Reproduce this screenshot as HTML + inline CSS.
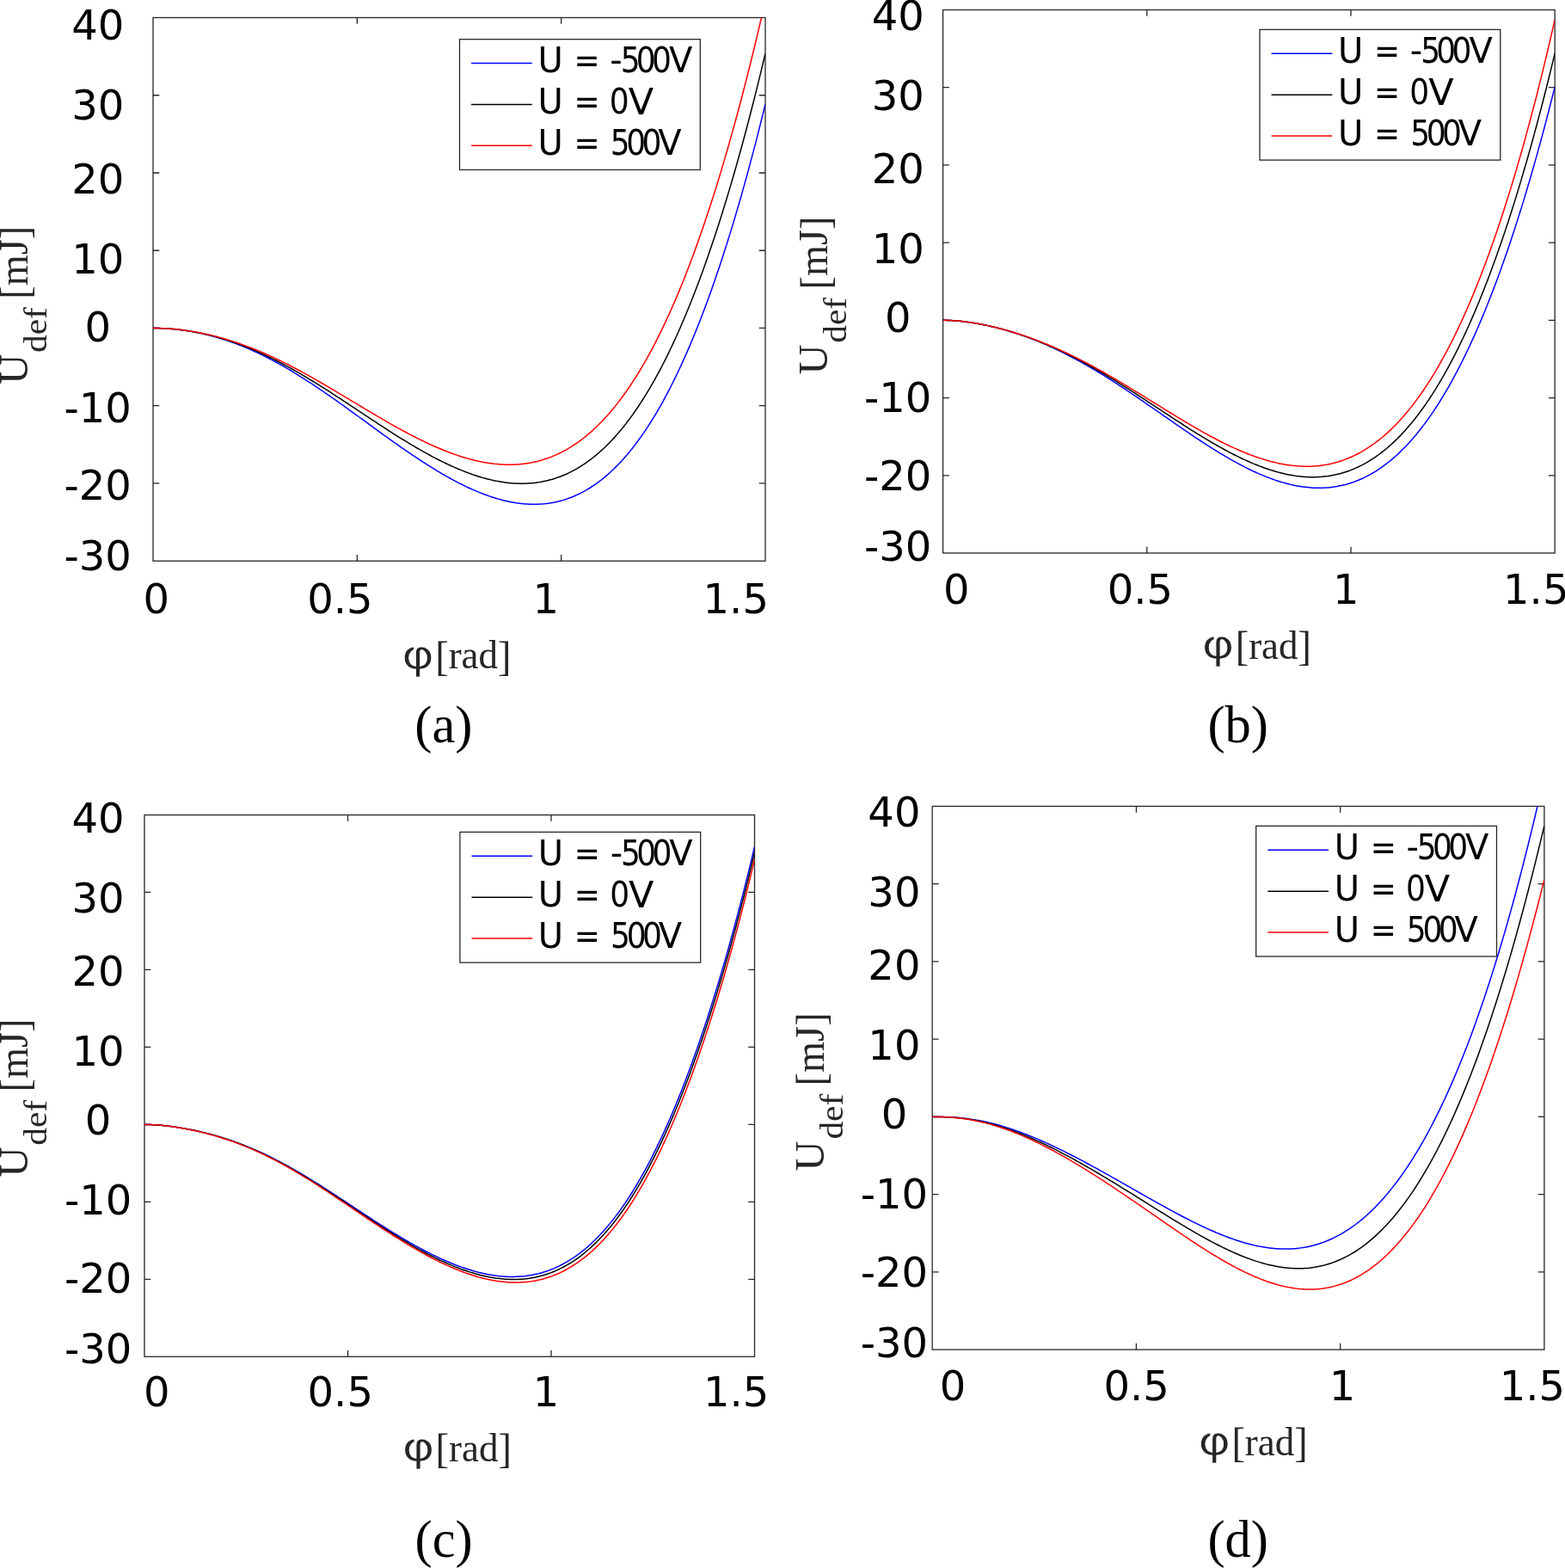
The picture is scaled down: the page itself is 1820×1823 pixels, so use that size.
<!DOCTYPE html><html><head><meta charset="utf-8"><title>U_def vs phi</title>
<style>html,body{margin:0;padding:0;background:#fff;overflow:hidden}svg{display:block}.tk{font-family:"DejaVu Sans",sans-serif;font-size:48px;fill:#000}.lg{font-family:"DejaVu Sans",sans-serif;font-size:40px;fill:#000}.sf{font-family:"Liberation Serif",serif;fill:#262626}.cap{font-family:"Liberation Serif",serif;font-size:60.5px;fill:#000}</style></head><body>
<svg width="1820" height="1823" viewBox="0 0 1820 1823">
<rect x="0" y="0" width="1820" height="1823" fill="#fff"/>
<g id="panel-a">
<clipPath id="clip-a"><rect x="178" y="20.5" width="712" height="631.7"/></clipPath>
<path d="M415.33,652.2V644.9M415.33,20.5V27.8M652.67,652.2V644.9M652.67,20.5V27.8M178,561.96H185.3M890,561.96H882.7M178,471.71H185.3M890,471.71H882.7M178,381.47H185.3M890,381.47H882.7M178,291.23H185.3M890,291.23H882.7M178,200.99H185.3M890,200.99H882.7M178,110.74H185.3M890,110.74H882.7" stroke="#262626" stroke-width="1.3" fill="none"/>
<rect x="178" y="20.5" width="712" height="631.7" fill="none" stroke="#262626" stroke-width="1.3"/>
<path d="M178,381.47 L180.38,381.48 L182.76,381.52 L185.14,381.58 L187.53,381.66 L189.91,381.76 L192.29,381.89 L194.67,382.04 L197.05,382.21 L199.43,382.4 L201.81,382.61 L204.19,382.85 L206.58,383.11 L208.96,383.39 L211.34,383.69 L213.72,384.01 L216.1,384.35 L218.48,384.72 L220.86,385.11 L223.24,385.51 L225.63,385.94 L228.01,386.4 L230.39,386.87 L232.77,387.37 L235.15,387.88 L237.53,388.42 L239.91,388.98 L242.29,389.57 L244.68,390.17 L247.06,390.8 L249.44,391.45 L251.82,392.12 L254.2,392.81 L256.58,393.53 L258.96,394.26 L261.34,395.02 L263.73,395.81 L266.11,396.61 L268.49,397.44 L270.87,398.28 L273.25,399.15 L275.63,400.05 L278.01,400.96 L280.39,401.89 L282.78,402.85 L285.16,403.83 L287.54,404.83 L289.92,405.85 L292.3,406.9 L294.68,407.96 L297.06,409.05 L299.44,410.15 L301.83,411.28 L304.21,412.43 L306.59,413.59 L308.97,414.78 L311.35,415.99 L313.73,417.21 L316.11,418.46 L318.49,419.73 L320.88,421.01 L323.26,422.31 L325.64,423.63 L328.02,424.97 L330.4,426.33 L332.78,427.7 L335.16,429.09 L337.55,430.5 L339.93,431.93 L342.31,433.37 L344.69,434.82 L347.07,436.29 L349.45,437.78 L351.83,439.28 L354.21,440.79 L356.6,442.32 L358.98,443.87 L361.36,445.42 L363.74,446.99 L366.12,448.57 L368.5,450.16 L370.88,451.76 L373.26,453.38 L375.65,455 L378.03,456.63 L380.41,458.28 L382.79,459.93 L385.17,461.59 L387.55,463.26 L389.93,464.94 L392.31,466.62 L394.7,468.31 L397.08,470.01 L399.46,471.71 L401.84,473.42 L404.22,475.13 L406.6,476.85 L408.98,478.57 L411.36,480.3 L413.75,482.03 L416.13,483.76 L418.51,485.49 L420.89,487.22 L423.27,488.96 L425.65,490.69 L428.03,492.42 L430.41,494.16 L432.8,495.89 L435.18,497.62 L437.56,499.35 L439.94,501.08 L442.32,502.8 L444.7,504.52 L447.08,506.24 L449.46,507.95 L451.85,509.66 L454.23,511.36 L456.61,513.05 L458.99,514.74 L461.37,516.42 L463.75,518.1 L466.13,519.76 L468.52,521.42 L470.9,523.07 L473.28,524.71 L475.66,526.34 L478.04,527.95 L480.42,529.56 L482.8,531.16 L485.18,532.74 L487.57,534.31 L489.95,535.87 L492.33,537.41 L494.71,538.94 L497.09,540.46 L499.47,541.96 L501.85,543.45 L504.23,544.91 L506.62,546.37 L509,547.8 L511.38,549.22 L513.76,550.62 L516.14,552 L518.52,553.37 L520.9,554.71 L523.28,556.03 L525.67,557.34 L528.05,558.62 L530.43,559.88 L532.81,561.11 L535.19,562.33 L537.57,563.52 L539.95,564.69 L542.33,565.83 L544.72,566.95 L547.1,568.05 L549.48,569.11 L551.86,570.16 L554.24,571.17 L556.62,572.16 L559,573.12 L561.38,574.05 L563.77,574.95 L566.15,575.82 L568.53,576.66 L570.91,577.47 L573.29,578.25 L575.67,579 L578.05,579.72 L580.43,580.4 L582.82,581.05 L585.2,581.66 L587.58,582.24 L589.96,582.78 L592.34,583.29 L594.72,583.76 L597.1,584.19 L599.48,584.59 L601.87,584.94 L604.25,585.26 L606.63,585.54 L609.01,585.77 L611.39,585.97 L613.77,586.12 L616.15,586.23 L618.54,586.3 L620.92,586.32 L623.3,586.3 L625.68,586.23 L628.06,586.12 L630.44,585.96 L632.82,585.76 L635.2,585.5 L637.59,585.2 L639.97,584.84 L642.35,584.44 L644.73,583.99 L647.11,583.48 L649.49,582.92 L651.87,582.31 L654.25,581.65 L656.64,580.93 L659.02,580.15 L661.4,579.32 L663.78,578.43 L666.16,577.49 L668.54,576.48 L670.92,575.42 L673.3,574.29 L675.69,573.11 L678.07,571.86 L680.45,570.56 L682.83,569.18 L685.21,567.75 L687.59,566.25 L689.97,564.68 L692.35,563.05 L694.74,561.35 L697.12,559.58 L699.5,557.75 L701.88,555.84 L704.26,553.87 L706.64,551.82 L709.02,549.7 L711.4,547.51 L713.79,545.24 L716.17,542.9 L718.55,540.49 L720.93,538 L723.31,535.43 L725.69,532.79 L728.07,530.06 L730.45,527.26 L732.84,524.38 L735.22,521.42 L737.6,518.37 L739.98,515.25 L742.36,512.04 L744.74,508.74 L747.12,505.36 L749.51,501.9 L751.89,498.35 L754.27,494.71 L756.65,490.99 L759.03,487.18 L761.41,483.28 L763.79,479.28 L766.17,475.2 L768.56,471.03 L770.94,466.76 L773.32,462.41 L775.7,457.95 L778.08,453.41 L780.46,448.77 L782.84,444.03 L785.22,439.2 L787.61,434.27 L789.99,429.24 L792.37,424.11 L794.75,418.89 L797.13,413.56 L799.51,408.14 L801.89,402.61 L804.27,396.99 L806.66,391.26 L809.04,385.42 L811.42,379.49 L813.8,373.45 L816.18,367.3 L818.56,361.05 L820.94,354.69 L823.32,348.23 L825.71,341.66 L828.09,334.98 L830.47,328.19 L832.85,321.29 L835.23,314.28 L837.61,307.17 L839.99,299.94 L842.37,292.6 L844.76,285.14 L847.14,277.58 L849.52,269.89 L851.9,262.1 L854.28,254.19 L856.66,246.16 L859.04,238.02 L861.42,229.76 L863.81,221.38 L866.19,212.88 L868.57,204.26 L870.95,195.52 L873.33,186.66 L875.71,177.68 L878.09,168.58 L880.47,159.35 L882.86,149.99 L885.24,140.51 L887.62,130.9 L890,121.17" fill="none" stroke="#0000ff" stroke-width="1.5" stroke-linejoin="round" clip-path="url(#clip-a)"/>
<path d="M178,381.47 L180.38,381.48 L182.76,381.52 L185.14,381.58 L187.53,381.66 L189.91,381.76 L192.29,381.88 L194.67,382.03 L197.05,382.19 L199.43,382.38 L201.81,382.59 L204.19,382.82 L206.58,383.07 L208.96,383.34 L211.34,383.64 L213.72,383.95 L216.1,384.28 L218.48,384.64 L220.86,385.01 L223.24,385.41 L225.63,385.82 L228.01,386.26 L230.39,386.71 L232.77,387.19 L235.15,387.69 L237.53,388.21 L239.91,388.74 L242.29,389.3 L244.68,389.88 L247.06,390.48 L249.44,391.1 L251.82,391.74 L254.2,392.41 L256.58,393.09 L258.96,393.79 L261.34,394.51 L263.73,395.26 L266.11,396.02 L268.49,396.81 L270.87,397.61 L273.25,398.44 L275.63,399.28 L278.01,400.15 L280.39,401.04 L282.78,401.94 L285.16,402.87 L287.54,403.81 L289.92,404.78 L292.3,405.76 L294.68,406.77 L297.06,407.79 L299.44,408.83 L301.83,409.89 L304.21,410.97 L306.59,412.07 L308.97,413.19 L311.35,414.32 L313.73,415.47 L316.11,416.64 L318.49,417.83 L320.88,419.03 L323.26,420.25 L325.64,421.49 L328.02,422.74 L330.4,424.01 L332.78,425.29 L335.16,426.59 L337.55,427.91 L339.93,429.24 L342.31,430.58 L344.69,431.94 L347.07,433.31 L349.45,434.69 L351.83,436.09 L354.21,437.49 L356.6,438.91 L358.98,440.35 L361.36,441.79 L363.74,443.24 L366.12,444.71 L368.5,446.18 L370.88,447.66 L373.26,449.16 L375.65,450.66 L378.03,452.17 L380.41,453.69 L382.79,455.21 L385.17,456.74 L387.55,458.28 L389.93,459.82 L392.31,461.37 L394.7,462.93 L397.08,464.49 L399.46,466.05 L401.84,467.62 L404.22,469.19 L406.6,470.76 L408.98,472.33 L411.36,473.91 L413.75,475.49 L416.13,477.07 L418.51,478.64 L420.89,480.22 L423.27,481.8 L425.65,483.38 L428.03,484.95 L430.41,486.52 L432.8,488.09 L435.18,489.66 L437.56,491.22 L439.94,492.78 L442.32,494.34 L444.7,495.89 L447.08,497.43 L449.46,498.97 L451.85,500.5 L454.23,502.03 L456.61,503.54 L458.99,505.05 L461.37,506.55 L463.75,508.04 L466.13,509.53 L468.52,511 L470.9,512.46 L473.28,513.91 L475.66,515.35 L478.04,516.78 L480.42,518.19 L482.8,519.59 L485.18,520.98 L487.57,522.36 L489.95,523.72 L492.33,525.06 L494.71,526.39 L497.09,527.71 L499.47,529.01 L501.85,530.29 L504.23,531.55 L506.62,532.8 L509,534.02 L511.38,535.23 L513.76,536.42 L516.14,537.59 L518.52,538.74 L520.9,539.87 L523.28,540.98 L525.67,542.06 L528.05,543.13 L530.43,544.17 L532.81,545.19 L535.19,546.18 L537.57,547.15 L539.95,548.09 L542.33,549.01 L544.72,549.9 L547.1,550.77 L549.48,551.61 L551.86,552.42 L554.24,553.21 L556.62,553.96 L559,554.69 L561.38,555.38 L563.77,556.05 L566.15,556.68 L568.53,557.29 L570.91,557.86 L573.29,558.4 L575.67,558.91 L578.05,559.38 L580.43,559.82 L582.82,560.22 L585.2,560.59 L587.58,560.92 L589.96,561.22 L592.34,561.47 L594.72,561.69 L597.1,561.88 L599.48,562.02 L601.87,562.12 L604.25,562.18 L606.63,562.21 L609.01,562.19 L611.39,562.12 L613.77,562.02 L616.15,561.87 L618.54,561.68 L620.92,561.44 L623.3,561.15 L625.68,560.82 L628.06,560.45 L630.44,560.02 L632.82,559.55 L635.2,559.03 L637.59,558.45 L639.97,557.83 L642.35,557.16 L644.73,556.43 L647.11,555.65 L649.49,554.82 L651.87,553.94 L654.25,552.99 L656.64,552 L659.02,550.94 L661.4,549.83 L663.78,548.67 L666.16,547.44 L668.54,546.15 L670.92,544.81 L673.3,543.4 L675.69,541.93 L678.07,540.4 L680.45,538.8 L682.83,537.14 L685.21,535.42 L687.59,533.63 L689.97,531.77 L692.35,529.85 L694.74,527.86 L697.12,525.8 L699.5,523.67 L701.88,521.47 L704.26,519.2 L706.64,516.86 L709.02,514.44 L711.4,511.95 L713.79,509.38 L716.17,506.75 L718.55,504.03 L720.93,501.24 L723.31,498.37 L725.69,495.42 L728.07,492.39 L730.45,489.29 L732.84,486.1 L735.22,482.83 L737.6,479.48 L739.98,476.04 L742.36,472.53 L744.74,468.92 L747.12,465.24 L749.51,461.46 L751.89,457.6 L754.27,453.65 L756.65,449.62 L759.03,445.49 L761.41,441.28 L763.79,436.97 L766.17,432.57 L768.56,428.08 L770.94,423.5 L773.32,418.83 L775.7,414.06 L778.08,409.2 L780.46,404.24 L782.84,399.18 L785.22,394.03 L787.61,388.79 L789.99,383.44 L792.37,377.99 L794.75,372.45 L797.13,366.81 L799.51,361.06 L801.89,355.22 L804.27,349.27 L806.66,343.22 L809.04,337.07 L811.42,330.81 L813.8,324.45 L816.18,317.98 L818.56,311.41 L820.94,304.73 L823.32,297.95 L825.71,291.06 L828.09,284.06 L830.47,276.95 L832.85,269.74 L835.23,262.41 L837.61,254.98 L839.99,247.43 L842.37,239.77 L844.76,232 L847.14,224.12 L849.52,216.13 L851.9,208.02 L854.28,199.8 L856.66,191.46 L859.04,183 L861.42,174.43 L863.81,165.74 L866.19,156.94 L868.57,148.01 L870.95,138.97 L873.33,129.81 L875.71,120.52 L878.09,111.11 L880.47,101.58 L882.86,91.93 L885.24,82.16 L887.62,72.25 L890,62.22" fill="none" stroke="#000000" stroke-width="1.5" stroke-linejoin="round" clip-path="url(#clip-a)"/>
<path d="M178,381.47 L180.38,381.48 L182.76,381.52 L185.14,381.57 L187.53,381.65 L189.91,381.75 L192.29,381.87 L194.67,382.01 L197.05,382.18 L199.43,382.36 L201.81,382.56 L204.19,382.79 L206.58,383.03 L208.96,383.29 L211.34,383.57 L213.72,383.88 L216.1,384.2 L218.48,384.54 L220.86,384.9 L223.24,385.28 L225.63,385.68 L228.01,386.09 L230.39,386.53 L232.77,386.99 L235.15,387.46 L237.53,387.96 L239.91,388.47 L242.29,389 L244.68,389.55 L247.06,390.13 L249.44,390.72 L251.82,391.32 L254.2,391.95 L256.58,392.6 L258.96,393.27 L261.34,393.95 L263.73,394.66 L266.11,395.38 L268.49,396.12 L270.87,396.88 L273.25,397.66 L275.63,398.46 L278.01,399.27 L280.39,400.11 L282.78,400.96 L285.16,401.83 L287.54,402.72 L289.92,403.63 L292.3,404.55 L294.68,405.5 L297.06,406.46 L299.44,407.43 L301.83,408.43 L304.21,409.44 L306.59,410.47 L308.97,411.51 L311.35,412.57 L313.73,413.65 L316.11,414.74 L318.49,415.85 L320.88,416.97 L323.26,418.11 L325.64,419.26 L328.02,420.43 L330.4,421.61 L332.78,422.8 L335.16,424.01 L337.55,425.23 L339.93,426.47 L342.31,427.71 L344.69,428.97 L347.07,430.24 L349.45,431.52 L351.83,432.82 L354.21,434.12 L356.6,435.43 L358.98,436.76 L361.36,438.09 L363.74,439.43 L366.12,440.78 L368.5,442.14 L370.88,443.51 L373.26,444.88 L375.65,446.27 L378.03,447.65 L380.41,449.05 L382.79,450.45 L385.17,451.85 L387.55,453.26 L389.93,454.68 L392.31,456.09 L394.7,457.52 L397.08,458.94 L399.46,460.37 L401.84,461.8 L404.22,463.23 L406.6,464.66 L408.98,466.09 L411.36,467.52 L413.75,468.96 L416.13,470.39 L418.51,471.82 L420.89,473.25 L423.27,474.67 L425.65,476.1 L428.03,477.52 L430.41,478.94 L432.8,480.35 L435.18,481.76 L437.56,483.16 L439.94,484.56 L442.32,485.95 L444.7,487.34 L447.08,488.72 L449.46,490.09 L451.85,491.45 L454.23,492.8 L456.61,494.15 L458.99,495.49 L461.37,496.81 L463.75,498.13 L466.13,499.44 L468.52,500.73 L470.9,502.01 L473.28,503.28 L475.66,504.54 L478.04,505.79 L480.42,507.02 L482.8,508.23 L485.18,509.43 L487.57,510.62 L489.95,511.79 L492.33,512.95 L494.71,514.09 L497.09,515.21 L499.47,516.31 L501.85,517.4 L504.23,518.46 L506.62,519.51 L509,520.54 L511.38,521.55 L513.76,522.54 L516.14,523.51 L518.52,524.45 L520.9,525.37 L523.28,526.28 L525.67,527.15 L528.05,528.01 L530.43,528.84 L532.81,529.65 L535.19,530.43 L537.57,531.18 L539.95,531.91 L542.33,532.62 L544.72,533.29 L547.1,533.94 L549.48,534.56 L551.86,535.15 L554.24,535.71 L556.62,536.25 L559,536.75 L561.38,537.22 L563.77,537.66 L566.15,538.07 L568.53,538.44 L570.91,538.79 L573.29,539.09 L575.67,539.37 L578.05,539.61 L580.43,539.81 L582.82,539.98 L585.2,540.11 L587.58,540.21 L589.96,540.26 L592.34,540.28 L594.72,540.26 L597.1,540.2 L599.48,540.1 L601.87,539.96 L604.25,539.77 L606.63,539.55 L609.01,539.28 L611.39,538.97 L613.77,538.61 L616.15,538.21 L618.54,537.77 L620.92,537.27 L623.3,536.73 L625.68,536.15 L628.06,535.51 L630.44,534.83 L632.82,534.09 L635.2,533.31 L637.59,532.47 L639.97,531.59 L642.35,530.65 L644.73,529.66 L647.11,528.61 L649.49,527.51 L651.87,526.35 L654.25,525.14 L656.64,523.87 L659.02,522.54 L661.4,521.16 L663.78,519.71 L666.16,518.21 L668.54,516.64 L670.92,515.02 L673.3,513.33 L675.69,511.57 L678.07,509.76 L680.45,507.88 L682.83,505.93 L685.21,503.92 L687.59,501.84 L689.97,499.69 L692.35,497.47 L694.74,495.19 L697.12,492.83 L699.5,490.41 L701.88,487.91 L704.26,485.34 L706.64,482.69 L709.02,479.97 L711.4,477.18 L713.79,474.31 L716.17,471.36 L718.55,468.34 L720.93,465.24 L723.31,462.06 L725.69,458.8 L728.07,455.46 L730.45,452.04 L732.84,448.53 L735.22,444.95 L737.6,441.28 L739.98,437.52 L742.36,433.68 L744.74,429.75 L747.12,425.74 L749.51,421.64 L751.89,417.45 L754.27,413.17 L756.65,408.81 L759.03,404.35 L761.41,399.8 L763.79,395.16 L766.17,390.43 L768.56,385.6 L770.94,380.68 L773.32,375.67 L775.7,370.55 L778.08,365.35 L780.46,360.05 L782.84,354.64 L785.22,349.15 L787.61,343.55 L789.99,337.85 L792.37,332.06 L794.75,326.16 L797.13,320.16 L799.51,314.06 L801.89,307.86 L804.27,301.55 L806.66,295.14 L809.04,288.63 L811.42,282.01 L813.8,275.28 L816.18,268.45 L818.56,261.52 L820.94,254.47 L823.32,247.32 L825.71,240.06 L828.09,232.69 L830.47,225.21 L832.85,217.63 L835.23,209.93 L837.61,202.12 L839.99,194.19 L842.37,186.16 L844.76,178.01 L847.14,169.75 L849.52,161.37 L851.9,152.88 L854.28,144.28 L856.66,135.56 L859.04,126.72 L861.42,117.77 L863.81,108.69 L866.19,99.5 L868.57,90.19 L870.95,80.76 L873.33,71.21 L875.71,61.53 L878.09,51.74 L880.47,41.82 L882.86,31.78 L885.24,21.61 L887.62,11.32" fill="none" stroke="#ff0000" stroke-width="1.5" stroke-linejoin="round" clip-path="url(#clip-a)"/>
<text class="tk" x="113.7" y="46.4" text-anchor="middle">40</text>
<text class="tk" x="113.7" y="139.3" text-anchor="middle">30</text>
<text class="tk" x="113.7" y="224.5" text-anchor="middle">20</text>
<text class="tk" x="113.7" y="317.6" text-anchor="middle">10</text>
<text class="tk" x="113.7" y="397.2" text-anchor="middle">0</text>
<text class="tk" x="113.7" y="490.5" text-anchor="middle">-10</text>
<text class="tk" x="113.7" y="581.3" text-anchor="middle">-20</text>
<text class="tk" x="113.7" y="663.35" text-anchor="middle">-30</text>
<text class="tk" x="181.85" y="713" text-anchor="middle">0</text>
<text class="tk" x="395.35" y="713" text-anchor="middle">0.5</text>
<text class="tk" x="634.7" y="713" text-anchor="middle">1</text>
<text class="tk" x="855.75" y="713" text-anchor="middle">1.5</text>
<text class="sf" style="font-family:DejaVu Sans,sans-serif" font-size="46.3" stroke="#fff" stroke-width="0.7" transform="translate(467,776.7) scale(1.25,1)">φ</text>
<text class="sf" font-size="47" transform="translate(506.2,777) scale(0.956,1)"><tspan font-size="48.5" y="1.6">[</tspan><tspan y="0">rad</tspan><tspan font-size="48.5" y="1.6">]</tspan></text>
<text class="sf" font-size="48.5" transform="translate(31.6,446.8) rotate(-90)">U</text>
<text class="sf" font-size="37.3" transform="translate(53.9,410) rotate(-90) scale(1.11,1)">def</text>
<text class="sf" font-size="49" transform="translate(31.6,347.8) rotate(-90) scale(0.946,1)"><tspan y="1.4">[</tspan><tspan y="0">mJ</tspan><tspan y="1.4">]</tspan></text>
<rect x="534.5" y="45.7" width="279.8" height="151.7" fill="#fff" stroke="#262626" stroke-width="1.3"/>
<path d="M548.1,73.6H618.8" stroke="#0000ff" stroke-width="1.5"/>
<path d="M548.1,121.6H618.8" stroke="#000000" stroke-width="1.5"/>
<path d="M548.1,169.3H618.8" stroke="#ff0000" stroke-width="1.5"/>
</g>
<g id="panel-b">
<clipPath id="clip-b"><rect x="1096.6" y="11.5" width="711.6" height="631.5"/></clipPath>
<path d="M1333.8,643V635.7M1333.8,11.5V18.8M1571,643V635.7M1571,11.5V18.8M1096.6,552.79H1103.9M1808.2,552.79H1800.9M1096.6,462.57H1103.9M1808.2,462.57H1800.9M1096.6,372.36H1103.9M1808.2,372.36H1800.9M1096.6,282.14H1103.9M1808.2,282.14H1800.9M1096.6,191.93H1103.9M1808.2,191.93H1800.9M1096.6,101.71H1103.9M1808.2,101.71H1800.9" stroke="#262626" stroke-width="1.3" fill="none"/>
<rect x="1096.6" y="11.5" width="711.6" height="631.5" fill="none" stroke="#262626" stroke-width="1.3"/>
<path d="M1096.6,372.36 L1098.98,372.37 L1101.36,372.42 L1103.74,372.5 L1106.12,372.6 L1108.5,372.74 L1110.88,372.9 L1113.26,373.09 L1115.64,373.3 L1118.02,373.54 L1120.4,373.8 L1122.78,374.09 L1125.16,374.39 L1127.54,374.72 L1129.92,375.08 L1132.3,375.45 L1134.68,375.84 L1137.06,376.26 L1139.44,376.69 L1141.82,377.15 L1144.2,377.62 L1146.58,378.11 L1148.96,378.62 L1151.34,379.16 L1153.72,379.71 L1156.1,380.27 L1158.48,380.86 L1160.86,381.47 L1163.24,382.09 L1165.62,382.73 L1168,383.39 L1170.38,384.07 L1172.76,384.77 L1175.14,385.48 L1177.52,386.22 L1179.9,386.97 L1182.28,387.74 L1184.66,388.52 L1187.04,389.33 L1189.42,390.15 L1191.8,390.99 L1194.18,391.85 L1196.56,392.73 L1198.94,393.62 L1201.32,394.53 L1203.7,395.47 L1206.08,396.41 L1208.46,397.38 L1210.84,398.36 L1213.22,399.37 L1215.6,400.39 L1217.98,401.42 L1220.36,402.48 L1222.74,403.55 L1225.12,404.64 L1227.5,405.75 L1229.88,406.87 L1232.26,408.01 L1234.64,409.17 L1237.02,410.35 L1239.4,411.54 L1241.78,412.75 L1244.16,413.97 L1246.54,415.22 L1248.92,416.47 L1251.3,417.75 L1253.68,419.04 L1256.06,420.34 L1258.44,421.66 L1260.82,423 L1263.2,424.35 L1265.58,425.71 L1267.96,427.09 L1270.34,428.49 L1272.72,429.9 L1275.09,431.32 L1277.47,432.75 L1279.85,434.2 L1282.23,435.66 L1284.61,437.13 L1286.99,438.62 L1289.37,440.12 L1291.75,441.62 L1294.13,443.14 L1296.51,444.67 L1298.89,446.21 L1301.27,447.76 L1303.65,449.32 L1306.03,450.89 L1308.41,452.47 L1310.79,454.05 L1313.17,455.65 L1315.55,457.25 L1317.93,458.86 L1320.31,460.47 L1322.69,462.09 L1325.07,463.72 L1327.45,465.35 L1329.83,466.99 L1332.21,468.63 L1334.59,470.27 L1336.97,471.92 L1339.35,473.57 L1341.73,475.23 L1344.11,476.88 L1346.49,478.54 L1348.87,480.2 L1351.25,481.85 L1353.63,483.51 L1356.01,485.17 L1358.39,486.83 L1360.77,488.48 L1363.15,490.14 L1365.53,491.79 L1367.91,493.43 L1370.29,495.08 L1372.67,496.71 L1375.05,498.35 L1377.43,499.98 L1379.81,501.6 L1382.19,503.22 L1384.57,504.83 L1386.95,506.43 L1389.33,508.02 L1391.71,509.61 L1394.09,511.18 L1396.47,512.75 L1398.85,514.31 L1401.23,515.85 L1403.61,517.39 L1405.99,518.91 L1408.37,520.42 L1410.75,521.91 L1413.13,523.4 L1415.51,524.86 L1417.89,526.32 L1420.27,527.76 L1422.65,529.18 L1425.03,530.59 L1427.41,531.97 L1429.79,533.35 L1432.17,534.7 L1434.55,536.03 L1436.93,537.35 L1439.31,538.64 L1441.69,539.92 L1444.07,541.17 L1446.45,542.4 L1448.83,543.61 L1451.21,544.8 L1453.59,545.96 L1455.97,547.1 L1458.35,548.21 L1460.73,549.3 L1463.11,550.37 L1465.49,551.4 L1467.87,552.41 L1470.25,553.4 L1472.63,554.35 L1475.01,555.28 L1477.39,556.17 L1479.77,557.04 L1482.15,557.88 L1484.53,558.68 L1486.91,559.45 L1489.29,560.19 L1491.67,560.9 L1494.05,561.58 L1496.43,562.22 L1498.81,562.82 L1501.19,563.39 L1503.57,563.93 L1505.95,564.43 L1508.33,564.89 L1510.71,565.31 L1513.09,565.69 L1515.47,566.04 L1517.85,566.35 L1520.23,566.61 L1522.61,566.84 L1524.99,567.02 L1527.37,567.16 L1529.75,567.26 L1532.13,567.31 L1534.51,567.32 L1536.89,567.29 L1539.27,567.21 L1541.65,567.08 L1544.03,566.91 L1546.41,566.69 L1548.79,566.42 L1551.17,566.11 L1553.55,565.74 L1555.93,565.33 L1558.31,564.86 L1560.69,564.35 L1563.07,563.78 L1565.45,563.16 L1567.83,562.48 L1570.21,561.75 L1572.59,560.97 L1574.97,560.13 L1577.35,559.24 L1579.73,558.29 L1582.11,557.28 L1584.49,556.21 L1586.87,555.09 L1589.25,553.91 L1591.63,552.66 L1594.01,551.36 L1596.39,549.99 L1598.77,548.57 L1601.15,547.08 L1603.53,545.52 L1605.91,543.9 L1608.29,542.22 L1610.67,540.47 L1613.05,538.66 L1615.43,536.78 L1617.81,534.83 L1620.19,532.81 L1622.57,530.73 L1624.95,528.57 L1627.33,526.35 L1629.71,524.05 L1632.08,521.68 L1634.46,519.24 L1636.84,516.73 L1639.22,514.14 L1641.6,511.48 L1643.98,508.74 L1646.36,505.93 L1648.74,503.04 L1651.12,500.07 L1653.5,497.03 L1655.88,493.91 L1658.26,490.71 L1660.64,487.42 L1663.02,484.06 L1665.4,480.62 L1667.78,477.09 L1670.16,473.49 L1672.54,469.79 L1674.92,466.02 L1677.3,462.16 L1679.68,458.22 L1682.06,454.18 L1684.44,450.07 L1686.82,445.86 L1689.2,441.57 L1691.58,437.19 L1693.96,432.72 L1696.34,428.16 L1698.72,423.51 L1701.1,418.77 L1703.48,413.94 L1705.86,409.01 L1708.24,404 L1710.62,398.88 L1713,393.68 L1715.38,388.38 L1717.76,382.98 L1720.14,377.49 L1722.52,371.9 L1724.9,366.22 L1727.28,360.43 L1729.66,354.55 L1732.04,348.57 L1734.42,342.49 L1736.8,336.31 L1739.18,330.02 L1741.56,323.64 L1743.94,317.15 L1746.32,310.56 L1748.7,303.87 L1751.08,297.07 L1753.46,290.17 L1755.84,283.17 L1758.22,276.05 L1760.6,268.83 L1762.98,261.5 L1765.36,254.07 L1767.74,246.52 L1770.12,238.87 L1772.5,231.11 L1774.88,223.23 L1777.26,215.24 L1779.64,207.15 L1782.02,198.93 L1784.4,190.61 L1786.78,182.17 L1789.16,173.61 L1791.54,164.94 L1793.92,156.15 L1796.3,147.24 L1798.68,138.21 L1801.06,129.06 L1803.44,119.8 L1805.82,110.41 L1808.2,100.89" fill="none" stroke="#0000ff" stroke-width="1.5" stroke-linejoin="round" clip-path="url(#clip-b)"/>
<path d="M1096.6,372.36 L1098.98,372.37 L1101.36,372.42 L1103.74,372.5 L1106.12,372.61 L1108.5,372.74 L1110.88,372.91 L1113.26,373.1 L1115.64,373.31 L1118.02,373.55 L1120.4,373.82 L1122.78,374.1 L1125.16,374.41 L1127.54,374.74 L1129.92,375.1 L1132.3,375.47 L1134.68,375.87 L1137.06,376.28 L1139.44,376.71 L1141.82,377.17 L1144.2,377.64 L1146.58,378.13 L1148.96,378.64 L1151.34,379.17 L1153.72,379.71 L1156.1,380.28 L1158.48,380.86 L1160.86,381.46 L1163.24,382.07 L1165.62,382.71 L1168,383.36 L1170.38,384.03 L1172.76,384.71 L1175.14,385.41 L1177.52,386.13 L1179.9,386.87 L1182.28,387.62 L1184.66,388.39 L1187.04,389.18 L1189.42,389.99 L1191.8,390.81 L1194.18,391.65 L1196.56,392.5 L1198.94,393.37 L1201.32,394.26 L1203.7,395.17 L1206.08,396.09 L1208.46,397.03 L1210.84,397.98 L1213.22,398.95 L1215.6,399.94 L1217.98,400.95 L1220.36,401.97 L1222.74,403 L1225.12,404.06 L1227.5,405.13 L1229.88,406.21 L1232.26,407.31 L1234.64,408.43 L1237.02,409.56 L1239.4,410.71 L1241.78,411.88 L1244.16,413.06 L1246.54,414.25 L1248.92,415.46 L1251.3,416.68 L1253.68,417.92 L1256.06,419.18 L1258.44,420.44 L1260.82,421.72 L1263.2,423.02 L1265.58,424.33 L1267.96,425.65 L1270.34,426.98 L1272.72,428.33 L1275.09,429.69 L1277.47,431.06 L1279.85,432.45 L1282.23,433.84 L1284.61,435.25 L1286.99,436.67 L1289.37,438.09 L1291.75,439.53 L1294.13,440.98 L1296.51,442.44 L1298.89,443.91 L1301.27,445.38 L1303.65,446.87 L1306.03,448.36 L1308.41,449.86 L1310.79,451.37 L1313.17,452.88 L1315.55,454.41 L1317.93,455.93 L1320.31,457.47 L1322.69,459.01 L1325.07,460.55 L1327.45,462.1 L1329.83,463.65 L1332.21,465.2 L1334.59,466.76 L1336.97,468.32 L1339.35,469.89 L1341.73,471.45 L1344.11,473.02 L1346.49,474.58 L1348.87,476.15 L1351.25,477.71 L1353.63,479.28 L1356.01,480.84 L1358.39,482.41 L1360.77,483.97 L1363.15,485.52 L1365.53,487.08 L1367.91,488.63 L1370.29,490.17 L1372.67,491.71 L1375.05,493.25 L1377.43,494.78 L1379.81,496.3 L1382.19,497.82 L1384.57,499.32 L1386.95,500.82 L1389.33,502.32 L1391.71,503.8 L1394.09,505.27 L1396.47,506.73 L1398.85,508.18 L1401.23,509.62 L1403.61,511.05 L1405.99,512.47 L1408.37,513.87 L1410.75,515.26 L1413.13,516.63 L1415.51,518 L1417.89,519.34 L1420.27,520.67 L1422.65,521.98 L1425.03,523.28 L1427.41,524.56 L1429.79,525.82 L1432.17,527.06 L1434.55,528.28 L1436.93,529.48 L1439.31,530.67 L1441.69,531.83 L1444.07,532.97 L1446.45,534.09 L1448.83,535.18 L1451.21,536.25 L1453.59,537.3 L1455.97,538.32 L1458.35,539.32 L1460.73,540.3 L1463.11,541.24 L1465.49,542.16 L1467.87,543.06 L1470.25,543.92 L1472.63,544.76 L1475.01,545.56 L1477.39,546.34 L1479.77,547.09 L1482.15,547.8 L1484.53,548.49 L1486.91,549.14 L1489.29,549.76 L1491.67,550.35 L1494.05,550.9 L1496.43,551.42 L1498.81,551.9 L1501.19,552.35 L1503.57,552.76 L1505.95,553.13 L1508.33,553.46 L1510.71,553.76 L1513.09,554.02 L1515.47,554.24 L1517.85,554.42 L1520.23,554.55 L1522.61,554.65 L1524.99,554.7 L1527.37,554.71 L1529.75,554.68 L1532.13,554.6 L1534.51,554.48 L1536.89,554.32 L1539.27,554.1 L1541.65,553.84 L1544.03,553.54 L1546.41,553.18 L1548.79,552.78 L1551.17,552.33 L1553.55,551.82 L1555.93,551.27 L1558.31,550.67 L1560.69,550.01 L1563.07,549.3 L1565.45,548.54 L1567.83,547.72 L1570.21,546.85 L1572.59,545.92 L1574.97,544.93 L1577.35,543.89 L1579.73,542.79 L1582.11,541.64 L1584.49,540.42 L1586.87,539.15 L1589.25,537.81 L1591.63,536.41 L1594.01,534.95 L1596.39,533.43 L1598.77,531.85 L1601.15,530.2 L1603.53,528.49 L1605.91,526.71 L1608.29,524.86 L1610.67,522.95 L1613.05,520.97 L1615.43,518.93 L1617.81,516.81 L1620.19,514.62 L1622.57,512.37 L1624.95,510.04 L1627.33,507.64 L1629.71,505.17 L1632.08,502.62 L1634.46,500 L1636.84,497.31 L1639.22,494.54 L1641.6,491.69 L1643.98,488.77 L1646.36,485.77 L1648.74,482.69 L1651.12,479.53 L1653.5,476.3 L1655.88,472.98 L1658.26,469.58 L1660.64,466.1 L1663.02,462.53 L1665.4,458.89 L1667.78,455.16 L1670.16,451.34 L1672.54,447.44 L1674.92,443.45 L1677.3,439.38 L1679.68,435.22 L1682.06,430.97 L1684.44,426.63 L1686.82,422.2 L1689.2,417.68 L1691.58,413.07 L1693.96,408.37 L1696.34,403.58 L1698.72,398.7 L1701.1,393.72 L1703.48,388.64 L1705.86,383.47 L1708.24,378.21 L1710.62,372.85 L1713,367.39 L1715.38,361.84 L1717.76,356.18 L1720.14,350.43 L1722.52,344.58 L1724.9,338.63 L1727.28,332.58 L1729.66,326.42 L1732.04,320.17 L1734.42,313.81 L1736.8,307.35 L1739.18,300.78 L1741.56,294.11 L1743.94,287.33 L1746.32,280.45 L1748.7,273.46 L1751.08,266.37 L1753.46,259.16 L1755.84,251.85 L1758.22,244.43 L1760.6,236.89 L1762.98,229.25 L1765.36,221.5 L1767.74,213.63 L1770.12,205.65 L1772.5,197.56 L1774.88,189.35 L1777.26,181.03 L1779.64,172.59 L1782.02,164.04 L1784.4,155.36 L1786.78,146.57 L1789.16,137.66 L1791.54,128.63 L1793.92,119.48 L1796.3,110.21 L1798.68,100.82 L1801.06,91.3 L1803.44,81.65 L1805.82,71.89 L1808.2,61.99" fill="none" stroke="#000000" stroke-width="1.5" stroke-linejoin="round" clip-path="url(#clip-b)"/>
<path d="M1096.6,372.36 L1098.98,372.37 L1101.36,372.42 L1103.74,372.5 L1106.12,372.61 L1108.5,372.75 L1110.88,372.91 L1113.26,373.1 L1115.64,373.31 L1118.02,373.55 L1120.4,373.82 L1122.78,374.1 L1125.16,374.41 L1127.54,374.74 L1129.92,375.1 L1132.3,375.47 L1134.68,375.86 L1137.06,376.27 L1139.44,376.7 L1141.82,377.15 L1144.2,377.62 L1146.58,378.11 L1148.96,378.62 L1151.34,379.14 L1153.72,379.68 L1156.1,380.24 L1158.48,380.81 L1160.86,381.41 L1163.24,382.02 L1165.62,382.64 L1168,383.29 L1170.38,383.95 L1172.76,384.62 L1175.14,385.31 L1177.52,386.02 L1179.9,386.75 L1182.28,387.49 L1184.66,388.25 L1187.04,389.02 L1189.42,389.81 L1191.8,390.61 L1194.18,391.44 L1196.56,392.27 L1198.94,393.13 L1201.32,393.99 L1203.7,394.88 L1206.08,395.78 L1208.46,396.7 L1210.84,397.63 L1213.22,398.58 L1215.6,399.54 L1217.98,400.52 L1220.36,401.51 L1222.74,402.52 L1225.12,403.54 L1227.5,404.58 L1229.88,405.63 L1232.26,406.7 L1234.64,407.79 L1237.02,408.88 L1239.4,410 L1241.78,411.12 L1244.16,412.26 L1246.54,413.42 L1248.92,414.59 L1251.3,415.77 L1253.68,416.96 L1256.06,418.17 L1258.44,419.39 L1260.82,420.62 L1263.2,421.87 L1265.58,423.13 L1267.96,424.4 L1270.34,425.68 L1272.72,426.98 L1275.09,428.28 L1277.47,429.6 L1279.85,430.92 L1282.23,432.26 L1284.61,433.61 L1286.99,434.96 L1289.37,436.33 L1291.75,437.7 L1294.13,439.09 L1296.51,440.48 L1298.89,441.88 L1301.27,443.29 L1303.65,444.7 L1306.03,446.12 L1308.41,447.55 L1310.79,448.99 L1313.17,450.43 L1315.55,451.87 L1317.93,453.32 L1320.31,454.78 L1322.69,456.24 L1325.07,457.7 L1327.45,459.16 L1329.83,460.63 L1332.21,462.1 L1334.59,463.58 L1336.97,465.05 L1339.35,466.52 L1341.73,468 L1344.11,469.47 L1346.49,470.95 L1348.87,472.42 L1351.25,473.89 L1353.63,475.37 L1356.01,476.83 L1358.39,478.3 L1360.77,479.76 L1363.15,481.22 L1365.53,482.67 L1367.91,484.12 L1370.29,485.56 L1372.67,487 L1375.05,488.43 L1377.43,489.86 L1379.81,491.27 L1382.19,492.68 L1384.57,494.08 L1386.95,495.47 L1389.33,496.86 L1391.71,498.23 L1394.09,499.59 L1396.47,500.94 L1398.85,502.28 L1401.23,503.6 L1403.61,504.92 L1405.99,506.22 L1408.37,507.5 L1410.75,508.78 L1413.13,510.03 L1415.51,511.28 L1417.89,512.5 L1420.27,513.71 L1422.65,514.91 L1425.03,516.08 L1427.41,517.24 L1429.79,518.38 L1432.17,519.5 L1434.55,520.6 L1436.93,521.68 L1439.31,522.73 L1441.69,523.77 L1444.07,524.79 L1446.45,525.78 L1448.83,526.75 L1451.21,527.69 L1453.59,528.62 L1455.97,529.51 L1458.35,530.39 L1460.73,531.23 L1463.11,532.05 L1465.49,532.84 L1467.87,533.61 L1470.25,534.34 L1472.63,535.05 L1475.01,535.73 L1477.39,536.38 L1479.77,537 L1482.15,537.58 L1484.53,538.14 L1486.91,538.66 L1489.29,539.15 L1491.67,539.61 L1494.05,540.03 L1496.43,540.42 L1498.81,540.77 L1501.19,541.09 L1503.57,541.37 L1505.95,541.61 L1508.33,541.81 L1510.71,541.98 L1513.09,542.11 L1515.47,542.2 L1517.85,542.24 L1520.23,542.25 L1522.61,542.22 L1524.99,542.14 L1527.37,542.02 L1529.75,541.86 L1532.13,541.65 L1534.51,541.4 L1536.89,541.1 L1539.27,540.76 L1541.65,540.37 L1544.03,539.93 L1546.41,539.45 L1548.79,538.92 L1551.17,538.33 L1553.55,537.7 L1555.93,537.02 L1558.31,536.28 L1560.69,535.5 L1563.07,534.66 L1565.45,533.76 L1567.83,532.82 L1570.21,531.81 L1572.59,530.76 L1574.97,529.64 L1577.35,528.47 L1579.73,527.24 L1582.11,525.95 L1584.49,524.61 L1586.87,523.2 L1589.25,521.73 L1591.63,520.21 L1594.01,518.62 L1596.39,516.96 L1598.77,515.25 L1601.15,513.46 L1603.53,511.62 L1605.91,509.71 L1608.29,507.73 L1610.67,505.68 L1613.05,503.57 L1615.43,501.38 L1617.81,499.13 L1620.19,496.81 L1622.57,494.41 L1624.95,491.95 L1627.33,489.41 L1629.71,486.8 L1632.08,484.11 L1634.46,481.35 L1636.84,478.51 L1639.22,475.6 L1641.6,472.6 L1643.98,469.53 L1646.36,466.39 L1648.74,463.16 L1651.12,459.85 L1653.5,456.46 L1655.88,452.99 L1658.26,449.43 L1660.64,445.79 L1663.02,442.07 L1665.4,438.26 L1667.78,434.36 L1670.16,430.38 L1672.54,426.31 L1674.92,422.15 L1677.3,417.91 L1679.68,413.57 L1682.06,409.14 L1684.44,404.62 L1686.82,400.01 L1689.2,395.3 L1691.58,390.5 L1693.96,385.61 L1696.34,380.62 L1698.72,375.53 L1701.1,370.34 L1703.48,365.06 L1705.86,359.68 L1708.24,354.2 L1710.62,348.62 L1713,342.94 L1715.38,337.15 L1717.76,331.26 L1720.14,325.27 L1722.52,319.17 L1724.9,312.97 L1727.28,306.67 L1729.66,300.25 L1732.04,293.73 L1734.42,287.1 L1736.8,280.36 L1739.18,273.5 L1741.56,266.54 L1743.94,259.47 L1746.32,252.28 L1748.7,244.98 L1751.08,237.56 L1753.46,230.03 L1755.84,222.38 L1758.22,214.62 L1760.6,206.73 L1762.98,198.73 L1765.36,190.61 L1767.74,182.36 L1770.12,174 L1772.5,165.51 L1774.88,156.9 L1777.26,148.16 L1779.64,139.29 L1782.02,130.3 L1784.4,121.18 L1786.78,111.94 L1789.16,102.56 L1791.54,93.05 L1793.92,83.4 L1796.3,73.63 L1798.68,63.72 L1801.06,53.67 L1803.44,43.48 L1805.82,33.16 L1808.2,22.69" fill="none" stroke="#ff0000" stroke-width="1.5" stroke-linejoin="round" clip-path="url(#clip-b)"/>
<text class="tk" x="1044.2" y="35.1" text-anchor="middle">40</text>
<text class="tk" x="1044.2" y="128" text-anchor="middle">30</text>
<text class="tk" x="1044.2" y="213.2" text-anchor="middle">20</text>
<text class="tk" x="1044.2" y="306.3" text-anchor="middle">10</text>
<text class="tk" x="1044.2" y="385.9" text-anchor="middle">0</text>
<text class="tk" x="1044.2" y="479.2" text-anchor="middle">-10</text>
<text class="tk" x="1044.2" y="570" text-anchor="middle">-20</text>
<text class="tk" x="1044.2" y="652.05" text-anchor="middle">-30</text>
<text class="tk" x="1112.35" y="701.7" text-anchor="middle">0</text>
<text class="tk" x="1325.85" y="701.7" text-anchor="middle">0.5</text>
<text class="tk" x="1565.2" y="701.7" text-anchor="middle">1</text>
<text class="tk" x="1786.25" y="701.7" text-anchor="middle">1.5</text>
<text class="sf" style="font-family:DejaVu Sans,sans-serif" font-size="46.3" stroke="#fff" stroke-width="0.7" transform="translate(1397.5,765.4) scale(1.25,1)">φ</text>
<text class="sf" font-size="47" transform="translate(1436.7,765.7) scale(0.956,1)"><tspan font-size="48.5" y="1.6">[</tspan><tspan y="0">rad</tspan><tspan font-size="48.5" y="1.6">]</tspan></text>
<text class="sf" font-size="48.5" transform="translate(962.1,435.5) rotate(-90)">U</text>
<text class="sf" font-size="37.3" transform="translate(984.4,398.7) rotate(-90) scale(1.11,1)">def</text>
<text class="sf" font-size="49" transform="translate(962.1,336.5) rotate(-90) scale(0.946,1)"><tspan y="1.4">[</tspan><tspan y="0">mJ</tspan><tspan y="1.4">]</tspan></text>
<rect x="1465" y="34.4" width="279.8" height="151.7" fill="#fff" stroke="#262626" stroke-width="1.3"/>
<path d="M1478.6,62.3H1549.3" stroke="#0000ff" stroke-width="1.5"/>
<path d="M1478.6,110.3H1549.3" stroke="#000000" stroke-width="1.5"/>
<path d="M1478.6,158H1549.3" stroke="#ff0000" stroke-width="1.5"/>
</g>
<g id="panel-c">
<clipPath id="clip-c"><rect x="168" y="947.5" width="709.5" height="629.8"/></clipPath>
<path d="M404.5,1577.3V1570M404.5,947.5V954.8M641,1577.3V1570M641,947.5V954.8M168,1487.33H175.3M877.5,1487.33H870.2M168,1397.36H175.3M877.5,1397.36H870.2M168,1307.39H175.3M877.5,1307.39H870.2M168,1217.41H175.3M877.5,1217.41H870.2M168,1127.44H175.3M877.5,1127.44H870.2M168,1037.47H175.3M877.5,1037.47H870.2" stroke="#262626" stroke-width="1.3" fill="none"/>
<rect x="168" y="947.5" width="709.5" height="629.8" fill="none" stroke="#262626" stroke-width="1.3"/>
<path d="M168,1307.39 L170.37,1307.4 L172.75,1307.45 L175.12,1307.53 L177.49,1307.63 L179.86,1307.76 L182.24,1307.92 L184.61,1308.09 L186.98,1308.29 L189.36,1308.52 L191.73,1308.76 L194.1,1309.02 L196.47,1309.31 L198.85,1309.61 L201.22,1309.92 L203.59,1310.26 L205.97,1310.61 L208.34,1310.98 L210.71,1311.37 L213.09,1311.77 L215.46,1312.19 L217.83,1312.63 L220.2,1313.08 L222.58,1313.55 L224.95,1314.03 L227.32,1314.53 L229.7,1315.05 L232.07,1315.58 L234.44,1316.13 L236.81,1316.7 L239.19,1317.28 L241.56,1317.88 L243.93,1318.49 L246.31,1319.13 L248.68,1319.78 L251.05,1320.45 L253.42,1321.13 L255.8,1321.84 L258.17,1322.56 L260.54,1323.3 L262.92,1324.05 L265.29,1324.83 L267.66,1325.62 L270.04,1326.44 L272.41,1327.27 L274.78,1328.12 L277.15,1328.99 L279.53,1329.88 L281.9,1330.78 L284.27,1331.71 L286.65,1332.65 L289.02,1333.62 L291.39,1334.6 L293.76,1335.6 L296.14,1336.62 L298.51,1337.66 L300.88,1338.72 L303.26,1339.8 L305.63,1340.89 L308,1342.01 L310.37,1343.14 L312.75,1344.29 L315.12,1345.45 L317.49,1346.64 L319.87,1347.84 L322.24,1349.06 L324.61,1350.29 L326.98,1351.55 L329.36,1352.81 L331.73,1354.1 L334.1,1355.4 L336.48,1356.71 L338.85,1358.04 L341.22,1359.39 L343.6,1360.75 L345.97,1362.12 L348.34,1363.5 L350.71,1364.9 L353.09,1366.31 L355.46,1367.74 L357.83,1369.17 L360.21,1370.62 L362.58,1372.07 L364.95,1373.54 L367.32,1375.02 L369.7,1376.5 L372.07,1378 L374.44,1379.5 L376.82,1381.01 L379.19,1382.53 L381.56,1384.06 L383.93,1385.59 L386.31,1387.13 L388.68,1388.67 L391.05,1390.22 L393.43,1391.77 L395.8,1393.32 L398.17,1394.88 L400.55,1396.44 L402.92,1398 L405.29,1399.57 L407.66,1401.13 L410.04,1402.7 L412.41,1404.27 L414.78,1405.83 L417.16,1407.39 L419.53,1408.96 L421.9,1410.52 L424.27,1412.07 L426.65,1413.63 L429.02,1415.18 L431.39,1416.73 L433.77,1418.27 L436.14,1419.8 L438.51,1421.33 L440.88,1422.86 L443.26,1424.37 L445.63,1425.88 L448,1427.38 L450.38,1428.88 L452.75,1430.36 L455.12,1431.83 L457.49,1433.3 L459.87,1434.75 L462.24,1436.2 L464.61,1437.63 L466.99,1439.05 L469.36,1440.45 L471.73,1441.85 L474.11,1443.23 L476.48,1444.6 L478.85,1445.95 L481.22,1447.29 L483.6,1448.61 L485.97,1449.92 L488.34,1451.21 L490.72,1452.48 L493.09,1453.74 L495.46,1454.98 L497.83,1456.2 L500.21,1457.4 L502.58,1458.59 L504.95,1459.75 L507.33,1460.89 L509.7,1462.02 L512.07,1463.12 L514.44,1464.2 L516.82,1465.26 L519.19,1466.29 L521.56,1467.31 L523.94,1468.3 L526.31,1469.26 L528.68,1470.2 L531.06,1471.12 L533.43,1472.01 L535.8,1472.88 L538.17,1473.71 L540.55,1474.53 L542.92,1475.31 L545.29,1476.06 L547.67,1476.79 L550.04,1477.49 L552.41,1478.16 L554.78,1478.79 L557.16,1479.4 L559.53,1479.98 L561.9,1480.52 L564.28,1481.03 L566.65,1481.51 L569.02,1481.95 L571.39,1482.36 L573.77,1482.74 L576.14,1483.07 L578.51,1483.38 L580.89,1483.64 L583.26,1483.87 L585.63,1484.06 L588.01,1484.21 L590.38,1484.32 L592.75,1484.39 L595.12,1484.43 L597.5,1484.41 L599.87,1484.36 L602.24,1484.26 L604.62,1484.12 L606.99,1483.94 L609.36,1483.71 L611.73,1483.44 L614.11,1483.11 L616.48,1482.74 L618.85,1482.33 L621.23,1481.86 L623.6,1481.34 L625.97,1480.78 L628.34,1480.16 L630.72,1479.49 L633.09,1478.77 L635.46,1477.99 L637.84,1477.16 L640.21,1476.28 L642.58,1475.33 L644.95,1474.34 L647.33,1473.28 L649.7,1472.16 L652.07,1470.99 L654.45,1469.76 L656.82,1468.46 L659.19,1467.1 L661.57,1465.68 L663.94,1464.2 L666.31,1462.65 L668.68,1461.04 L671.06,1459.36 L673.43,1457.62 L675.8,1455.81 L678.18,1453.93 L680.55,1451.98 L682.92,1449.96 L685.29,1447.86 L687.67,1445.7 L690.04,1443.47 L692.41,1441.16 L694.79,1438.78 L697.16,1436.32 L699.53,1433.79 L701.9,1431.18 L704.28,1428.49 L706.65,1425.73 L709.02,1422.89 L711.4,1419.97 L713.77,1416.97 L716.14,1413.89 L718.52,1410.72 L720.89,1407.48 L723.26,1404.15 L725.63,1400.74 L728.01,1397.24 L730.38,1393.66 L732.75,1390 L735.13,1386.25 L737.5,1382.41 L739.87,1378.49 L742.24,1374.48 L744.62,1370.38 L746.99,1366.19 L749.36,1361.91 L751.74,1357.55 L754.11,1353.09 L756.48,1348.54 L758.85,1343.91 L761.23,1339.18 L763.6,1334.35 L765.97,1329.44 L768.35,1324.43 L770.72,1319.33 L773.09,1314.14 L775.46,1308.85 L777.84,1303.47 L780.21,1297.99 L782.58,1292.42 L784.96,1286.75 L787.33,1280.99 L789.7,1275.13 L792.08,1269.17 L794.45,1263.11 L796.82,1256.96 L799.19,1250.71 L801.57,1244.36 L803.94,1237.91 L806.31,1231.36 L808.69,1224.71 L811.06,1217.96 L813.43,1211.11 L815.8,1204.16 L818.18,1197.11 L820.55,1189.95 L822.92,1182.69 L825.3,1175.33 L827.67,1167.86 L830.04,1160.28 L832.41,1152.6 L834.79,1144.81 L837.16,1136.91 L839.53,1128.9 L841.91,1120.78 L844.28,1112.55 L846.65,1104.2 L849.03,1095.74 L851.4,1087.16 L853.77,1078.46 L856.14,1069.64 L858.52,1060.7 L860.89,1051.63 L863.26,1042.44 L865.64,1033.11 L868.01,1023.66 L870.38,1014.07 L872.75,1004.34 L875.13,994.48 L877.5,984.46" fill="none" stroke="#0000ff" stroke-width="1.5" stroke-linejoin="round" clip-path="url(#clip-c)"/>
<path d="M168,1307.39 L170.37,1307.4 L172.75,1307.45 L175.12,1307.53 L177.49,1307.63 L179.86,1307.76 L182.24,1307.92 L184.61,1308.1 L186.98,1308.3 L189.36,1308.52 L191.73,1308.77 L194.1,1309.03 L196.47,1309.32 L198.85,1309.62 L201.22,1309.94 L203.59,1310.28 L205.97,1310.64 L208.34,1311.01 L210.71,1311.4 L213.09,1311.81 L215.46,1312.23 L217.83,1312.67 L220.2,1313.13 L222.58,1313.6 L224.95,1314.09 L227.32,1314.6 L229.7,1315.12 L232.07,1315.66 L234.44,1316.21 L236.81,1316.78 L239.19,1317.37 L241.56,1317.98 L243.93,1318.6 L246.31,1319.24 L248.68,1319.9 L251.05,1320.58 L253.42,1321.27 L255.8,1321.99 L258.17,1322.72 L260.54,1323.47 L262.92,1324.23 L265.29,1325.02 L267.66,1325.82 L270.04,1326.65 L272.41,1327.49 L274.78,1328.35 L277.15,1329.23 L279.53,1330.13 L281.9,1331.05 L284.27,1331.99 L286.65,1332.94 L289.02,1333.92 L291.39,1334.92 L293.76,1335.93 L296.14,1336.96 L298.51,1338.02 L300.88,1339.09 L303.26,1340.18 L305.63,1341.29 L308,1342.42 L310.37,1343.56 L312.75,1344.73 L315.12,1345.91 L317.49,1347.11 L319.87,1348.33 L322.24,1349.56 L324.61,1350.81 L326.98,1352.08 L329.36,1353.37 L331.73,1354.67 L334.1,1355.98 L336.48,1357.32 L338.85,1358.66 L341.22,1360.03 L343.6,1361.4 L345.97,1362.79 L348.34,1364.2 L350.71,1365.61 L353.09,1367.04 L355.46,1368.48 L357.83,1369.94 L360.21,1371.4 L362.58,1372.88 L364.95,1374.36 L367.32,1375.86 L369.7,1377.37 L372.07,1378.88 L374.44,1380.4 L376.82,1381.94 L379.19,1383.47 L381.56,1385.02 L383.93,1386.57 L386.31,1388.13 L388.68,1389.69 L391.05,1391.26 L393.43,1392.83 L395.8,1394.41 L398.17,1395.99 L400.55,1397.57 L402.92,1399.16 L405.29,1400.74 L407.66,1402.33 L410.04,1403.92 L412.41,1405.5 L414.78,1407.09 L417.16,1408.68 L419.53,1410.26 L421.9,1411.84 L424.27,1413.42 L426.65,1415 L429.02,1416.57 L431.39,1418.14 L433.77,1419.7 L436.14,1421.26 L438.51,1422.82 L440.88,1424.36 L443.26,1425.9 L445.63,1427.43 L448,1428.96 L450.38,1430.47 L452.75,1431.98 L455.12,1433.48 L457.49,1434.97 L459.87,1436.44 L462.24,1437.91 L464.61,1439.36 L466.99,1440.81 L469.36,1442.24 L471.73,1443.66 L474.11,1445.06 L476.48,1446.45 L478.85,1447.83 L481.22,1449.19 L483.6,1450.54 L485.97,1451.87 L488.34,1453.18 L490.72,1454.48 L493.09,1455.76 L495.46,1457.02 L497.83,1458.27 L500.21,1459.49 L502.58,1460.7 L504.95,1461.89 L507.33,1463.06 L509.7,1464.2 L512.07,1465.33 L514.44,1466.43 L516.82,1467.52 L519.19,1468.58 L521.56,1469.61 L523.94,1470.63 L526.31,1471.62 L528.68,1472.58 L531.06,1473.52 L533.43,1474.44 L535.8,1475.33 L538.17,1476.19 L540.55,1477.02 L542.92,1477.83 L545.29,1478.61 L547.67,1479.36 L550.04,1480.09 L552.41,1480.78 L554.78,1481.44 L557.16,1482.07 L559.53,1482.67 L561.9,1483.24 L564.28,1483.77 L566.65,1484.28 L569.02,1484.75 L571.39,1485.18 L573.77,1485.58 L576.14,1485.94 L578.51,1486.27 L580.89,1486.56 L583.26,1486.81 L585.63,1487.03 L588.01,1487.2 L590.38,1487.34 L592.75,1487.44 L595.12,1487.49 L597.5,1487.51 L599.87,1487.48 L602.24,1487.41 L604.62,1487.3 L606.99,1487.14 L609.36,1486.93 L611.73,1486.68 L614.11,1486.39 L616.48,1486.04 L618.85,1485.65 L621.23,1485.21 L623.6,1484.72 L625.97,1484.18 L628.34,1483.59 L630.72,1482.95 L633.09,1482.25 L635.46,1481.5 L637.84,1480.7 L640.21,1479.84 L642.58,1478.93 L644.95,1477.96 L647.33,1476.93 L649.7,1475.84 L652.07,1474.69 L654.45,1473.49 L656.82,1472.22 L659.19,1470.89 L661.57,1469.5 L663.94,1468.05 L666.31,1466.53 L668.68,1464.94 L671.06,1463.29 L673.43,1461.58 L675.8,1459.79 L678.18,1457.94 L680.55,1456.02 L682.92,1454.03 L685.29,1451.97 L687.67,1449.84 L690.04,1447.63 L692.41,1445.35 L694.79,1443 L697.16,1440.58 L699.53,1438.07 L701.9,1435.5 L704.28,1432.84 L706.65,1430.11 L709.02,1427.3 L711.4,1424.41 L713.77,1421.44 L716.14,1418.39 L718.52,1415.26 L720.89,1412.05 L723.26,1408.75 L725.63,1405.38 L728.01,1401.91 L730.38,1398.37 L732.75,1394.74 L735.13,1391.02 L737.5,1387.22 L739.87,1383.33 L742.24,1379.35 L744.62,1375.28 L746.99,1371.13 L749.36,1366.89 L751.74,1362.56 L754.11,1358.13 L756.48,1353.62 L758.85,1349.02 L761.23,1344.33 L763.6,1339.54 L765.97,1334.66 L768.35,1329.69 L770.72,1324.63 L773.09,1319.47 L775.46,1314.22 L777.84,1308.87 L780.21,1303.43 L782.58,1297.89 L784.96,1292.26 L787.33,1286.54 L789.7,1280.71 L792.08,1274.79 L794.45,1268.77 L796.82,1262.66 L799.19,1256.45 L801.57,1250.14 L803.94,1243.72 L806.31,1237.21 L808.69,1230.6 L811.06,1223.89 L813.43,1217.08 L815.8,1210.17 L818.18,1203.16 L820.55,1196.04 L822.92,1188.82 L825.3,1181.49 L827.67,1174.06 L830.04,1166.52 L832.41,1158.88 L834.79,1151.13 L837.16,1143.27 L839.53,1135.3 L841.91,1127.21 L844.28,1119.02 L846.65,1110.71 L849.03,1102.29 L851.4,1093.75 L853.77,1085.09 L856.14,1076.31 L858.52,1067.4 L860.89,1058.38 L863.26,1049.22 L865.64,1039.94 L868.01,1030.52 L870.38,1020.97 L872.75,1011.28 L875.13,1001.45 L877.5,991.47" fill="none" stroke="#000000" stroke-width="1.5" stroke-linejoin="round" clip-path="url(#clip-c)"/>
<path d="M168,1307.39 L170.37,1307.4 L172.75,1307.45 L175.12,1307.53 L177.49,1307.64 L179.86,1307.77 L182.24,1307.93 L184.61,1308.11 L186.98,1308.32 L189.36,1308.55 L191.73,1308.8 L194.1,1309.06 L196.47,1309.35 L198.85,1309.66 L201.22,1309.99 L203.59,1310.34 L205.97,1310.7 L208.34,1311.08 L210.71,1311.48 L213.09,1311.89 L215.46,1312.32 L217.83,1312.77 L220.2,1313.24 L222.58,1313.72 L224.95,1314.22 L227.32,1314.73 L229.7,1315.26 L232.07,1315.81 L234.44,1316.37 L236.81,1316.96 L239.19,1317.56 L241.56,1318.17 L243.93,1318.81 L246.31,1319.46 L248.68,1320.13 L251.05,1320.81 L253.42,1321.52 L255.8,1322.24 L258.17,1322.98 L260.54,1323.74 L262.92,1324.52 L265.29,1325.32 L267.66,1326.13 L270.04,1326.97 L272.41,1327.82 L274.78,1328.69 L277.15,1329.59 L279.53,1330.5 L281.9,1331.43 L284.27,1332.38 L286.65,1333.35 L289.02,1334.33 L291.39,1335.34 L293.76,1336.37 L296.14,1337.41 L298.51,1338.48 L300.88,1339.56 L303.26,1340.67 L305.63,1341.79 L308,1342.93 L310.37,1344.09 L312.75,1345.26 L315.12,1346.46 L317.49,1347.67 L319.87,1348.9 L322.24,1350.15 L324.61,1351.41 L326.98,1352.69 L329.36,1353.99 L331.73,1355.31 L334.1,1356.63 L336.48,1357.98 L338.85,1359.34 L341.22,1360.72 L343.6,1362.11 L345.97,1363.51 L348.34,1364.93 L350.71,1366.36 L353.09,1367.8 L355.46,1369.26 L357.83,1370.72 L360.21,1372.2 L362.58,1373.69 L364.95,1375.19 L367.32,1376.7 L369.7,1378.23 L372.07,1379.75 L374.44,1381.29 L376.82,1382.84 L379.19,1384.39 L381.56,1385.95 L383.93,1387.52 L386.31,1389.09 L388.68,1390.67 L391.05,1392.26 L393.43,1393.85 L395.8,1395.44 L398.17,1397.04 L400.55,1398.63 L402.92,1400.24 L405.29,1401.84 L407.66,1403.44 L410.04,1405.05 L412.41,1406.65 L414.78,1408.26 L417.16,1409.86 L419.53,1411.47 L421.9,1413.07 L424.27,1414.67 L426.65,1416.26 L429.02,1417.85 L431.39,1419.44 L433.77,1421.03 L436.14,1422.6 L438.51,1424.18 L440.88,1425.74 L443.26,1427.31 L445.63,1428.86 L448,1430.4 L450.38,1431.94 L452.75,1433.47 L455.12,1434.99 L457.49,1436.5 L459.87,1438 L462.24,1439.49 L464.61,1440.97 L466.99,1442.44 L469.36,1443.9 L471.73,1445.34 L474.11,1446.77 L476.48,1448.18 L478.85,1449.59 L481.22,1450.97 L483.6,1452.35 L485.97,1453.71 L488.34,1455.05 L490.72,1456.37 L493.09,1457.68 L495.46,1458.97 L497.83,1460.25 L500.21,1461.5 L502.58,1462.74 L504.95,1463.96 L507.33,1465.16 L509.7,1466.33 L512.07,1467.49 L514.44,1468.63 L516.82,1469.74 L519.19,1470.83 L521.56,1471.9 L523.94,1472.95 L526.31,1473.97 L528.68,1474.97 L531.06,1475.95 L533.43,1476.9 L535.8,1477.82 L538.17,1478.72 L540.55,1479.59 L542.92,1480.44 L545.29,1481.25 L547.67,1482.04 L550.04,1482.8 L552.41,1483.53 L554.78,1484.23 L557.16,1484.9 L559.53,1485.54 L561.9,1486.15 L564.28,1486.72 L566.65,1487.27 L569.02,1487.78 L571.39,1488.25 L573.77,1488.69 L576.14,1489.1 L578.51,1489.47 L580.89,1489.8 L583.26,1490.1 L585.63,1490.35 L588.01,1490.57 L590.38,1490.76 L592.75,1490.9 L595.12,1491 L597.5,1491.06 L599.87,1491.07 L602.24,1491.05 L604.62,1490.98 L606.99,1490.87 L609.36,1490.71 L611.73,1490.51 L614.11,1490.26 L616.48,1489.97 L618.85,1489.62 L621.23,1489.23 L623.6,1488.79 L625.97,1488.3 L628.34,1487.76 L630.72,1487.16 L633.09,1486.52 L635.46,1485.82 L637.84,1485.06 L640.21,1484.25 L642.58,1483.39 L644.95,1482.47 L647.33,1481.49 L649.7,1480.46 L652.07,1479.36 L654.45,1478.21 L656.82,1476.99 L659.19,1475.71 L661.57,1474.37 L663.94,1472.97 L666.31,1471.5 L668.68,1469.97 L671.06,1468.38 L673.43,1466.71 L675.8,1464.98 L678.18,1463.18 L680.55,1461.31 L682.92,1459.37 L685.29,1457.37 L687.67,1455.29 L690.04,1453.13 L692.41,1450.91 L694.79,1448.61 L697.16,1446.23 L699.53,1443.78 L701.9,1441.26 L704.28,1438.66 L706.65,1435.98 L709.02,1433.22 L711.4,1430.38 L713.77,1427.46 L716.14,1424.46 L718.52,1421.38 L720.89,1418.22 L723.26,1414.98 L725.63,1411.65 L728.01,1408.24 L730.38,1404.74 L732.75,1401.16 L735.13,1397.49 L737.5,1393.74 L739.87,1389.89 L742.24,1385.96 L744.62,1381.95 L746.99,1377.84 L749.36,1373.64 L751.74,1369.36 L754.11,1364.98 L756.48,1360.52 L758.85,1355.96 L761.23,1351.31 L763.6,1346.56 L765.97,1341.73 L768.35,1336.8 L770.72,1331.78 L773.09,1326.66 L775.46,1321.45 L777.84,1316.14 L780.21,1310.74 L782.58,1305.24 L784.96,1299.65 L787.33,1293.96 L789.7,1288.17 L792.08,1282.28 L794.45,1276.3 L796.82,1270.22 L799.19,1264.04 L801.57,1257.76 L803.94,1251.37 L806.31,1244.89 L808.69,1238.31 L811.06,1231.63 L813.43,1224.84 L815.8,1217.95 L818.18,1210.96 L820.55,1203.87 L822.92,1196.67 L825.3,1189.36 L827.67,1181.95 L830.04,1174.43 L832.41,1166.8 L834.79,1159.06 L837.16,1151.22 L839.53,1143.26 L841.91,1135.19 L844.28,1127 L846.65,1118.7 L849.03,1110.28 L851.4,1101.74 L853.77,1093.09 L856.14,1084.31 L858.52,1075.4 L860.89,1066.37 L863.26,1057.22 L865.64,1047.93 L868.01,1038.5 L870.38,1028.94 L872.75,1019.24 L875.13,1009.4 L877.5,999.41" fill="none" stroke="#ff0000" stroke-width="1.5" stroke-linejoin="round" clip-path="url(#clip-c)"/>
<text class="tk" x="114.1" y="968.1" text-anchor="middle">40</text>
<text class="tk" x="114.1" y="1061" text-anchor="middle">30</text>
<text class="tk" x="114.1" y="1146.2" text-anchor="middle">20</text>
<text class="tk" x="114.1" y="1239.3" text-anchor="middle">10</text>
<text class="tk" x="114.1" y="1318.9" text-anchor="middle">0</text>
<text class="tk" x="114.1" y="1412.2" text-anchor="middle">-10</text>
<text class="tk" x="114.1" y="1503" text-anchor="middle">-20</text>
<text class="tk" x="114.1" y="1585.05" text-anchor="middle">-30</text>
<text class="tk" x="182.25" y="1634.7" text-anchor="middle">0</text>
<text class="tk" x="395.75" y="1634.7" text-anchor="middle">0.5</text>
<text class="tk" x="635.1" y="1634.7" text-anchor="middle">1</text>
<text class="tk" x="856.15" y="1634.7" text-anchor="middle">1.5</text>
<text class="sf" style="font-family:DejaVu Sans,sans-serif" font-size="46.3" stroke="#fff" stroke-width="0.7" transform="translate(467.4,1698.4) scale(1.25,1)">φ</text>
<text class="sf" font-size="47" transform="translate(506.6,1698.7) scale(0.956,1)"><tspan font-size="48.5" y="1.6">[</tspan><tspan y="0">rad</tspan><tspan font-size="48.5" y="1.6">]</tspan></text>
<text class="sf" font-size="48.5" transform="translate(32,1368.5) rotate(-90)">U</text>
<text class="sf" font-size="37.3" transform="translate(54.3,1331.7) rotate(-90) scale(1.11,1)">def</text>
<text class="sf" font-size="49" transform="translate(32,1269.5) rotate(-90) scale(0.946,1)"><tspan y="1.4">[</tspan><tspan y="0">mJ</tspan><tspan y="1.4">]</tspan></text>
<rect x="534.9" y="967.4" width="279.8" height="151.7" fill="#fff" stroke="#262626" stroke-width="1.3"/>
<path d="M548.5,995.3H619.2" stroke="#0000ff" stroke-width="1.5"/>
<path d="M548.5,1043.3H619.2" stroke="#000000" stroke-width="1.5"/>
<path d="M548.5,1091H619.2" stroke="#ff0000" stroke-width="1.5"/>
</g>
<g id="panel-d">
<clipPath id="clip-d"><rect x="1084.2" y="937.4" width="711.7" height="631.7"/></clipPath>
<path d="M1321.43,1569.1V1561.8M1321.43,937.4V944.7M1558.67,1569.1V1561.8M1558.67,937.4V944.7M1084.2,1478.86H1091.5M1795.9,1478.86H1788.6M1084.2,1388.61H1091.5M1795.9,1388.61H1788.6M1084.2,1298.37H1091.5M1795.9,1298.37H1788.6M1084.2,1208.13H1091.5M1795.9,1208.13H1788.6M1084.2,1117.89H1091.5M1795.9,1117.89H1788.6M1084.2,1027.64H1091.5M1795.9,1027.64H1788.6" stroke="#262626" stroke-width="1.3" fill="none"/>
<rect x="1084.2" y="937.4" width="711.7" height="631.7" fill="none" stroke="#262626" stroke-width="1.3"/>
<path d="M1084.2,1298.37 L1086.58,1298.38 L1088.96,1298.39 L1091.34,1298.42 L1093.72,1298.45 L1096.1,1298.51 L1098.48,1298.57 L1100.86,1298.66 L1103.24,1298.76 L1105.62,1298.88 L1108,1299.02 L1110.38,1299.18 L1112.76,1299.37 L1115.14,1299.57 L1117.52,1299.79 L1119.9,1300.04 L1122.28,1300.31 L1124.66,1300.61 L1127.04,1300.92 L1129.43,1301.26 L1131.81,1301.63 L1134.19,1302.02 L1136.57,1302.43 L1138.95,1302.86 L1141.33,1303.32 L1143.71,1303.81 L1146.09,1304.31 L1148.47,1304.84 L1150.85,1305.4 L1153.23,1305.97 L1155.61,1306.57 L1157.99,1307.2 L1160.37,1307.84 L1162.75,1308.51 L1165.13,1309.2 L1167.51,1309.91 L1169.89,1310.64 L1172.27,1311.39 L1174.65,1312.16 L1177.03,1312.95 L1179.41,1313.77 L1181.79,1314.6 L1184.17,1315.45 L1186.55,1316.32 L1188.93,1317.21 L1191.31,1318.11 L1193.69,1319.03 L1196.07,1319.97 L1198.45,1320.93 L1200.83,1321.9 L1203.21,1322.89 L1205.59,1323.9 L1207.97,1324.92 L1210.35,1325.95 L1212.73,1327 L1215.11,1328.06 L1217.49,1329.14 L1219.88,1330.23 L1222.26,1331.33 L1224.64,1332.45 L1227.02,1333.57 L1229.4,1334.71 L1231.78,1335.87 L1234.16,1337.03 L1236.54,1338.2 L1238.92,1339.38 L1241.3,1340.58 L1243.68,1341.78 L1246.06,1343 L1248.44,1344.22 L1250.82,1345.45 L1253.2,1346.69 L1255.58,1347.94 L1257.96,1349.19 L1260.34,1350.46 L1262.72,1351.73 L1265.1,1353.01 L1267.48,1354.29 L1269.86,1355.58 L1272.24,1356.88 L1274.62,1358.18 L1277,1359.49 L1279.38,1360.81 L1281.76,1362.13 L1284.14,1363.45 L1286.52,1364.78 L1288.9,1366.11 L1291.28,1367.45 L1293.66,1368.79 L1296.04,1370.13 L1298.42,1371.48 L1300.8,1372.82 L1303.18,1374.17 L1305.56,1375.53 L1307.95,1376.88 L1310.33,1378.24 L1312.71,1379.59 L1315.09,1380.95 L1317.47,1382.31 L1319.85,1383.66 L1322.23,1385.02 L1324.61,1386.38 L1326.99,1387.73 L1329.37,1389.08 L1331.75,1390.44 L1334.13,1391.79 L1336.51,1393.13 L1338.89,1394.48 L1341.27,1395.82 L1343.65,1397.15 L1346.03,1398.49 L1348.41,1399.82 L1350.79,1401.14 L1353.17,1402.46 L1355.55,1403.77 L1357.93,1405.08 L1360.31,1406.38 L1362.69,1407.67 L1365.07,1408.95 L1367.45,1410.23 L1369.83,1411.5 L1372.21,1412.76 L1374.59,1414.01 L1376.97,1415.25 L1379.35,1416.48 L1381.73,1417.7 L1384.11,1418.91 L1386.49,1420.1 L1388.87,1421.28 L1391.25,1422.45 L1393.63,1423.61 L1396.02,1424.75 L1398.4,1425.88 L1400.78,1427 L1403.16,1428.09 L1405.54,1429.17 L1407.92,1430.24 L1410.3,1431.28 L1412.68,1432.31 L1415.06,1433.32 L1417.44,1434.31 L1419.82,1435.28 L1422.2,1436.23 L1424.58,1437.16 L1426.96,1438.07 L1429.34,1438.96 L1431.72,1439.82 L1434.1,1440.66 L1436.48,1441.47 L1438.86,1442.26 L1441.24,1443.03 L1443.62,1443.77 L1446,1444.48 L1448.38,1445.16 L1450.76,1445.82 L1453.14,1446.45 L1455.52,1447.04 L1457.9,1447.61 L1460.28,1448.15 L1462.66,1448.66 L1465.04,1449.13 L1467.42,1449.57 L1469.8,1449.98 L1472.18,1450.36 L1474.56,1450.7 L1476.94,1451 L1479.32,1451.27 L1481.7,1451.5 L1484.08,1451.7 L1486.47,1451.85 L1488.85,1451.97 L1491.23,1452.05 L1493.61,1452.09 L1495.99,1452.09 L1498.37,1452.04 L1500.75,1451.96 L1503.13,1451.83 L1505.51,1451.66 L1507.89,1451.45 L1510.27,1451.19 L1512.65,1450.88 L1515.03,1450.53 L1517.41,1450.14 L1519.79,1449.69 L1522.17,1449.2 L1524.55,1448.66 L1526.93,1448.07 L1529.31,1447.43 L1531.69,1446.74 L1534.07,1446 L1536.45,1445.21 L1538.83,1444.37 L1541.21,1443.47 L1543.59,1442.52 L1545.97,1441.51 L1548.35,1440.45 L1550.73,1439.34 L1553.11,1438.17 L1555.49,1436.94 L1557.87,1435.65 L1560.25,1434.31 L1562.63,1432.91 L1565.01,1431.45 L1567.39,1429.93 L1569.77,1428.35 L1572.15,1426.71 L1574.54,1425 L1576.92,1423.24 L1579.3,1421.41 L1581.68,1419.52 L1584.06,1417.56 L1586.44,1415.54 L1588.82,1413.46 L1591.2,1411.31 L1593.58,1409.09 L1595.96,1406.81 L1598.34,1404.45 L1600.72,1402.03 L1603.1,1399.54 L1605.48,1396.99 L1607.86,1394.36 L1610.24,1391.66 L1612.62,1388.88 L1615,1386.04 L1617.38,1383.13 L1619.76,1380.14 L1622.14,1377.07 L1624.52,1373.93 L1626.9,1370.72 L1629.28,1367.43 L1631.66,1364.06 L1634.04,1360.62 L1636.42,1357.1 L1638.8,1353.5 L1641.18,1349.82 L1643.56,1346.06 L1645.94,1342.22 L1648.32,1338.3 L1650.7,1334.29 L1653.08,1330.2 L1655.46,1326.03 L1657.84,1321.78 L1660.22,1317.44 L1662.61,1313.01 L1664.99,1308.49 L1667.37,1303.89 L1669.75,1299.2 L1672.13,1294.42 L1674.51,1289.55 L1676.89,1284.59 L1679.27,1279.54 L1681.65,1274.4 L1684.03,1269.16 L1686.41,1263.83 L1688.79,1258.41 L1691.17,1252.88 L1693.55,1247.27 L1695.93,1241.55 L1698.31,1235.74 L1700.69,1229.82 L1703.07,1223.81 L1705.45,1217.7 L1707.83,1211.48 L1710.21,1205.16 L1712.59,1198.74 L1714.97,1192.21 L1717.35,1185.58 L1719.73,1178.84 L1722.11,1172 L1724.49,1165.04 L1726.87,1157.98 L1729.25,1150.81 L1731.63,1143.53 L1734.01,1136.14 L1736.39,1128.63 L1738.77,1121.01 L1741.15,1113.28 L1743.53,1105.43 L1745.91,1097.47 L1748.29,1089.4 L1750.67,1081.2 L1753.06,1072.89 L1755.44,1064.46 L1757.82,1055.92 L1760.2,1047.25 L1762.58,1038.46 L1764.96,1029.56 L1767.34,1020.53 L1769.72,1011.39 L1772.1,1002.12 L1774.48,992.73 L1776.86,983.22 L1779.24,973.59 L1781.62,963.83 L1784,953.96 L1786.38,943.96 L1788.76,933.84 L1791.14,923.6" fill="none" stroke="#0000ff" stroke-width="1.5" stroke-linejoin="round" clip-path="url(#clip-d)"/>
<path d="M1084.2,1298.37 L1086.58,1298.38 L1088.96,1298.4 L1091.34,1298.43 L1093.72,1298.48 L1096.1,1298.55 L1098.48,1298.63 L1100.86,1298.74 L1103.24,1298.86 L1105.62,1299 L1108,1299.17 L1110.38,1299.36 L1112.76,1299.57 L1115.14,1299.81 L1117.52,1300.07 L1119.9,1300.35 L1122.28,1300.66 L1124.66,1300.99 L1127.04,1301.35 L1129.43,1301.73 L1131.81,1302.14 L1134.19,1302.57 L1136.57,1303.03 L1138.95,1303.51 L1141.33,1304.02 L1143.71,1304.55 L1146.09,1305.1 L1148.47,1305.68 L1150.85,1306.29 L1153.23,1306.91 L1155.61,1307.57 L1157.99,1308.24 L1160.37,1308.94 L1162.75,1309.66 L1165.13,1310.4 L1167.51,1311.17 L1169.89,1311.95 L1172.27,1312.76 L1174.65,1313.59 L1177.03,1314.44 L1179.41,1315.31 L1181.79,1316.2 L1184.17,1317.11 L1186.55,1318.04 L1188.93,1318.98 L1191.31,1319.95 L1193.69,1320.93 L1196.07,1321.93 L1198.45,1322.95 L1200.83,1323.99 L1203.21,1325.04 L1205.59,1326.11 L1207.97,1327.19 L1210.35,1328.29 L1212.73,1329.41 L1215.11,1330.53 L1217.49,1331.68 L1219.88,1332.84 L1222.26,1334.01 L1224.64,1335.19 L1227.02,1336.39 L1229.4,1337.6 L1231.78,1338.82 L1234.16,1340.06 L1236.54,1341.3 L1238.92,1342.56 L1241.3,1343.83 L1243.68,1345.11 L1246.06,1346.4 L1248.44,1347.7 L1250.82,1349.01 L1253.2,1350.33 L1255.58,1351.66 L1257.96,1353 L1260.34,1354.35 L1262.72,1355.71 L1265.1,1357.07 L1267.48,1358.45 L1269.86,1359.83 L1272.24,1361.22 L1274.62,1362.61 L1277,1364.02 L1279.38,1365.43 L1281.76,1366.84 L1284.14,1368.27 L1286.52,1369.69 L1288.9,1371.13 L1291.28,1372.57 L1293.66,1374.01 L1296.04,1375.47 L1298.42,1376.92 L1300.8,1378.38 L1303.18,1379.84 L1305.56,1381.31 L1307.95,1382.78 L1310.33,1384.26 L1312.71,1385.73 L1315.09,1387.21 L1317.47,1388.69 L1319.85,1390.18 L1322.23,1391.66 L1324.61,1393.15 L1326.99,1394.64 L1329.37,1396.13 L1331.75,1397.62 L1334.13,1399.11 L1336.51,1400.6 L1338.89,1402.09 L1341.27,1403.57 L1343.65,1405.06 L1346.03,1406.54 L1348.41,1408.03 L1350.79,1409.5 L1353.17,1410.98 L1355.55,1412.45 L1357.93,1413.92 L1360.31,1415.39 L1362.69,1416.85 L1365.07,1418.3 L1367.45,1419.75 L1369.83,1421.2 L1372.21,1422.63 L1374.59,1424.06 L1376.97,1425.48 L1379.35,1426.9 L1381.73,1428.3 L1384.11,1429.7 L1386.49,1431.09 L1388.87,1432.46 L1391.25,1433.83 L1393.63,1435.18 L1396.02,1436.53 L1398.4,1437.86 L1400.78,1439.18 L1403.16,1440.48 L1405.54,1441.77 L1407.92,1443.05 L1410.3,1444.31 L1412.68,1445.55 L1415.06,1446.78 L1417.44,1447.99 L1419.82,1449.19 L1422.2,1450.36 L1424.58,1451.52 L1426.96,1452.65 L1429.34,1453.77 L1431.72,1454.87 L1434.1,1455.94 L1436.48,1456.99 L1438.86,1458.02 L1441.24,1459.02 L1443.62,1460.01 L1446,1460.96 L1448.38,1461.89 L1450.76,1462.8 L1453.14,1463.67 L1455.52,1464.52 L1457.9,1465.34 L1460.28,1466.13 L1462.66,1466.9 L1465.04,1467.63 L1467.42,1468.33 L1469.8,1469 L1472.18,1469.63 L1474.56,1470.23 L1476.94,1470.8 L1479.32,1471.33 L1481.7,1471.83 L1484.08,1472.29 L1486.47,1472.72 L1488.85,1473.1 L1491.23,1473.45 L1493.61,1473.76 L1495.99,1474.03 L1498.37,1474.26 L1500.75,1474.45 L1503.13,1474.59 L1505.51,1474.7 L1507.89,1474.76 L1510.27,1474.77 L1512.65,1474.74 L1515.03,1474.67 L1517.41,1474.55 L1519.79,1474.38 L1522.17,1474.17 L1524.55,1473.9 L1526.93,1473.59 L1529.31,1473.23 L1531.69,1472.81 L1534.07,1472.35 L1536.45,1471.83 L1538.83,1471.27 L1541.21,1470.65 L1543.59,1469.97 L1545.97,1469.24 L1548.35,1468.46 L1550.73,1467.62 L1553.11,1466.72 L1555.49,1465.76 L1557.87,1464.75 L1560.25,1463.68 L1562.63,1462.55 L1565.01,1461.36 L1567.39,1460.11 L1569.77,1458.8 L1572.15,1457.43 L1574.54,1455.99 L1576.92,1454.5 L1579.3,1452.93 L1581.68,1451.31 L1584.06,1449.62 L1586.44,1447.86 L1588.82,1446.04 L1591.2,1444.15 L1593.58,1442.19 L1595.96,1440.16 L1598.34,1438.07 L1600.72,1435.9 L1603.1,1433.67 L1605.48,1431.36 L1607.86,1428.99 L1610.24,1426.54 L1612.62,1424.02 L1615,1421.42 L1617.38,1418.76 L1619.76,1416.01 L1622.14,1413.19 L1624.52,1410.3 L1626.9,1407.33 L1629.28,1404.28 L1631.66,1401.16 L1634.04,1397.95 L1636.42,1394.67 L1638.8,1391.31 L1641.18,1387.86 L1643.56,1384.34 L1645.94,1380.73 L1648.32,1377.05 L1650.7,1373.27 L1653.08,1369.42 L1655.46,1365.48 L1657.84,1361.45 L1660.22,1357.34 L1662.61,1353.15 L1664.99,1348.86 L1667.37,1344.49 L1669.75,1340.03 L1672.13,1335.48 L1674.51,1330.84 L1676.89,1326.11 L1679.27,1321.28 L1681.65,1316.37 L1684.03,1311.36 L1686.41,1306.26 L1688.79,1301.07 L1691.17,1295.78 L1693.55,1290.39 L1695.93,1284.91 L1698.31,1279.33 L1700.69,1273.65 L1703.07,1267.88 L1705.45,1262 L1707.83,1256.03 L1710.21,1249.96 L1712.59,1243.78 L1714.97,1237.5 L1717.35,1231.12 L1719.73,1224.64 L1722.11,1218.05 L1724.49,1211.36 L1726.87,1204.57 L1729.25,1197.66 L1731.63,1190.66 L1734.01,1183.54 L1736.39,1176.32 L1738.77,1168.99 L1741.15,1161.55 L1743.53,1154.01 L1745.91,1146.35 L1748.29,1138.59 L1750.67,1130.71 L1753.06,1122.73 L1755.44,1114.63 L1757.82,1106.43 L1760.2,1098.11 L1762.58,1089.68 L1764.96,1081.14 L1767.34,1072.49 L1769.72,1063.73 L1772.1,1054.86 L1774.48,1045.88 L1776.86,1036.79 L1779.24,1027.59 L1781.62,1018.27 L1784,1008.85 L1786.38,999.32 L1788.76,989.68 L1791.14,979.94 L1793.52,970.09 L1795.9,960.13" fill="none" stroke="#000000" stroke-width="1.5" stroke-linejoin="round" clip-path="url(#clip-d)"/>
<path d="M1084.2,1298.37 L1086.58,1298.38 L1088.96,1298.4 L1091.34,1298.44 L1093.72,1298.49 L1096.1,1298.57 L1098.48,1298.66 L1100.86,1298.77 L1103.24,1298.91 L1105.62,1299.07 L1108,1299.25 L1110.38,1299.45 L1112.76,1299.68 L1115.14,1299.94 L1117.52,1300.22 L1119.9,1300.52 L1122.28,1300.85 L1124.66,1301.21 L1127.04,1301.59 L1129.43,1302 L1131.81,1302.44 L1134.19,1302.9 L1136.57,1303.39 L1138.95,1303.91 L1141.33,1304.45 L1143.71,1305.02 L1146.09,1305.61 L1148.47,1306.23 L1150.85,1306.87 L1153.23,1307.54 L1155.61,1308.24 L1157.99,1308.96 L1160.37,1309.7 L1162.75,1310.47 L1165.13,1311.26 L1167.51,1312.08 L1169.89,1312.92 L1172.27,1313.78 L1174.65,1314.66 L1177.03,1315.57 L1179.41,1316.5 L1181.79,1317.45 L1184.17,1318.42 L1186.55,1319.41 L1188.93,1320.42 L1191.31,1321.45 L1193.69,1322.5 L1196.07,1323.57 L1198.45,1324.66 L1200.83,1325.76 L1203.21,1326.89 L1205.59,1328.03 L1207.97,1329.19 L1210.35,1330.36 L1212.73,1331.56 L1215.11,1332.77 L1217.49,1333.99 L1219.88,1335.23 L1222.26,1336.49 L1224.64,1337.76 L1227.02,1339.04 L1229.4,1340.34 L1231.78,1341.65 L1234.16,1342.98 L1236.54,1344.32 L1238.92,1345.67 L1241.3,1347.04 L1243.68,1348.42 L1246.06,1349.81 L1248.44,1351.21 L1250.82,1352.62 L1253.2,1354.05 L1255.58,1355.48 L1257.96,1356.93 L1260.34,1358.39 L1262.72,1359.86 L1265.1,1361.33 L1267.48,1362.82 L1269.86,1364.32 L1272.24,1365.82 L1274.62,1367.34 L1277,1368.86 L1279.38,1370.39 L1281.76,1371.93 L1284.14,1373.48 L1286.52,1375.03 L1288.9,1376.59 L1291.28,1378.16 L1293.66,1379.74 L1296.04,1381.32 L1298.42,1382.91 L1300.8,1384.51 L1303.18,1386.11 L1305.56,1387.71 L1307.95,1389.32 L1310.33,1390.94 L1312.71,1392.56 L1315.09,1394.18 L1317.47,1395.81 L1319.85,1397.44 L1322.23,1399.08 L1324.61,1400.72 L1326.99,1402.36 L1329.37,1404 L1331.75,1405.65 L1334.13,1407.29 L1336.51,1408.94 L1338.89,1410.59 L1341.27,1412.24 L1343.65,1413.89 L1346.03,1415.53 L1348.41,1417.18 L1350.79,1418.83 L1353.17,1420.48 L1355.55,1422.12 L1357.93,1423.76 L1360.31,1425.4 L1362.69,1427.03 L1365.07,1428.67 L1367.45,1430.29 L1369.83,1431.92 L1372.21,1433.53 L1374.59,1435.15 L1376.97,1436.75 L1379.35,1438.35 L1381.73,1439.94 L1384.11,1441.53 L1386.49,1443.1 L1388.87,1444.67 L1391.25,1446.23 L1393.63,1447.78 L1396.02,1449.32 L1398.4,1450.84 L1400.78,1452.36 L1403.16,1453.86 L1405.54,1455.36 L1407.92,1456.83 L1410.3,1458.3 L1412.68,1459.75 L1415.06,1461.18 L1417.44,1462.6 L1419.82,1464 L1422.2,1465.39 L1424.58,1466.75 L1426.96,1468.1 L1429.34,1469.43 L1431.72,1470.74 L1434.1,1472.03 L1436.48,1473.3 L1438.86,1474.55 L1441.24,1475.78 L1443.62,1476.98 L1446,1478.16 L1448.38,1479.31 L1450.76,1480.44 L1453.14,1481.54 L1455.52,1482.62 L1457.9,1483.67 L1460.28,1484.69 L1462.66,1485.68 L1465.04,1486.64 L1467.42,1487.58 L1469.8,1488.48 L1472.18,1489.35 L1474.56,1490.19 L1476.94,1490.99 L1479.32,1491.76 L1481.7,1492.5 L1484.08,1493.2 L1486.47,1493.87 L1488.85,1494.5 L1491.23,1495.09 L1493.61,1495.64 L1495.99,1496.16 L1498.37,1496.63 L1500.75,1497.07 L1503.13,1497.46 L1505.51,1497.82 L1507.89,1498.13 L1510.27,1498.39 L1512.65,1498.62 L1515.03,1498.79 L1517.41,1498.93 L1519.79,1499.01 L1522.17,1499.05 L1524.55,1499.05 L1526.93,1498.99 L1529.31,1498.89 L1531.69,1498.73 L1534.07,1498.53 L1536.45,1498.28 L1538.83,1497.97 L1541.21,1497.61 L1543.59,1497.2 L1545.97,1496.73 L1548.35,1496.22 L1550.73,1495.64 L1553.11,1495.01 L1555.49,1494.32 L1557.87,1493.58 L1560.25,1492.78 L1562.63,1491.92 L1565.01,1491 L1567.39,1490.02 L1569.77,1488.98 L1572.15,1487.89 L1574.54,1486.72 L1576.92,1485.5 L1579.3,1484.22 L1581.68,1482.87 L1584.06,1481.45 L1586.44,1479.97 L1588.82,1478.43 L1591.2,1476.82 L1593.58,1475.14 L1595.96,1473.4 L1598.34,1471.59 L1600.72,1469.71 L1603.1,1467.76 L1605.48,1465.74 L1607.86,1463.64 L1610.24,1461.48 L1612.62,1459.25 L1615,1456.94 L1617.38,1454.57 L1619.76,1452.11 L1622.14,1449.59 L1624.52,1446.99 L1626.9,1444.31 L1629.28,1441.55 L1631.66,1438.72 L1634.04,1435.82 L1636.42,1432.83 L1638.8,1429.77 L1641.18,1426.62 L1643.56,1423.4 L1645.94,1420.1 L1648.32,1416.71 L1650.7,1413.24 L1653.08,1409.69 L1655.46,1406.06 L1657.84,1402.34 L1660.22,1398.54 L1662.61,1394.65 L1664.99,1390.68 L1667.37,1386.62 L1669.75,1382.47 L1672.13,1378.24 L1674.51,1373.92 L1676.89,1369.51 L1679.27,1365 L1681.65,1360.41 L1684.03,1355.73 L1686.41,1350.95 L1688.79,1346.08 L1691.17,1341.12 L1693.55,1336.07 L1695.93,1330.92 L1698.31,1325.67 L1700.69,1320.33 L1703.07,1314.9 L1705.45,1309.36 L1707.83,1303.73 L1710.21,1298 L1712.59,1292.17 L1714.97,1286.24 L1717.35,1280.21 L1719.73,1274.09 L1722.11,1267.86 L1724.49,1261.52 L1726.87,1255.09 L1729.25,1248.55 L1731.63,1241.91 L1734.01,1235.16 L1736.39,1228.31 L1738.77,1221.36 L1741.15,1214.3 L1743.53,1207.14 L1745.91,1199.87 L1748.29,1192.49 L1750.67,1185.01 L1753.06,1177.42 L1755.44,1169.72 L1757.82,1161.92 L1760.2,1154 L1762.58,1145.99 L1764.96,1137.86 L1767.34,1129.63 L1769.72,1121.29 L1772.1,1112.84 L1774.48,1104.29 L1776.86,1095.63 L1779.24,1086.87 L1781.62,1078 L1784,1069.03 L1786.38,1059.95 L1788.76,1050.77 L1791.14,1041.49 L1793.52,1032.11 L1795.9,1022.62" fill="none" stroke="#ff0000" stroke-width="1.5" stroke-linejoin="round" clip-path="url(#clip-d)"/>
<text class="tk" x="1039.9" y="961" text-anchor="middle">40</text>
<text class="tk" x="1039.9" y="1053.9" text-anchor="middle">30</text>
<text class="tk" x="1039.9" y="1139.1" text-anchor="middle">20</text>
<text class="tk" x="1039.9" y="1232.2" text-anchor="middle">10</text>
<text class="tk" x="1039.9" y="1311.8" text-anchor="middle">0</text>
<text class="tk" x="1039.9" y="1405.1" text-anchor="middle">-10</text>
<text class="tk" x="1039.9" y="1495.9" text-anchor="middle">-20</text>
<text class="tk" x="1039.9" y="1577.95" text-anchor="middle">-30</text>
<text class="tk" x="1108.05" y="1627.6" text-anchor="middle">0</text>
<text class="tk" x="1321.55" y="1627.6" text-anchor="middle">0.5</text>
<text class="tk" x="1560.9" y="1627.6" text-anchor="middle">1</text>
<text class="tk" x="1781.95" y="1627.6" text-anchor="middle">1.5</text>
<text class="sf" style="font-family:DejaVu Sans,sans-serif" font-size="46.3" stroke="#fff" stroke-width="0.7" transform="translate(1393.2,1691.3) scale(1.25,1)">φ</text>
<text class="sf" font-size="47" transform="translate(1432.4,1691.6) scale(0.956,1)"><tspan font-size="48.5" y="1.6">[</tspan><tspan y="0">rad</tspan><tspan font-size="48.5" y="1.6">]</tspan></text>
<text class="sf" font-size="48.5" transform="translate(957.8,1361.4) rotate(-90)">U</text>
<text class="sf" font-size="37.3" transform="translate(980.1,1324.6) rotate(-90) scale(1.11,1)">def</text>
<text class="sf" font-size="49" transform="translate(957.8,1262.4) rotate(-90) scale(0.946,1)"><tspan y="1.4">[</tspan><tspan y="0">mJ</tspan><tspan y="1.4">]</tspan></text>
<rect x="1460.7" y="960.3" width="279.8" height="151.7" fill="#fff" stroke="#262626" stroke-width="1.3"/>
<path d="M1474.3,988.2H1545" stroke="#0000ff" stroke-width="1.5"/>
<path d="M1474.3,1036.2H1545" stroke="#000000" stroke-width="1.5"/>
<path d="M1474.3,1083.9H1545" stroke="#ff0000" stroke-width="1.5"/>
</g>
<text class="lg" font-size="39.5" x="625.47 646.45 667.44 687.44 709.37 721.66 739.77 758.07 777.89" y="84">U <tspan font-stretch="condensed">=</tspan> -<tspan font-stretch="condensed">5</tspan><tspan font-stretch="condensed">0</tspan><tspan font-stretch="condensed">0</tspan>V</text>
<text class="lg" font-size="39.5" x="625.47 646.45 667.44 687.44 708.87 730.66" y="131.9">U <tspan font-stretch="condensed">=</tspan> <tspan font-stretch="condensed">0</tspan><tspan font-size="43.0" y="133.2">V</tspan></text>
<text class="lg" font-size="39.5" x="625.47 646.45 667.44 687.44 709.66 728.37 746.57 765.29" y="179.9">U <tspan font-stretch="condensed">=</tspan> <tspan font-stretch="condensed">5</tspan><tspan font-stretch="condensed">0</tspan><tspan font-stretch="condensed">0</tspan>V</text>
<text class="lg" font-size="39.5" x="1555.97 1576.95 1597.94 1617.94 1639.87 1652.16 1670.27 1688.57 1708.39" y="72.7">U <tspan font-stretch="condensed">=</tspan> -<tspan font-stretch="condensed">5</tspan><tspan font-stretch="condensed">0</tspan><tspan font-stretch="condensed">0</tspan>V</text>
<text class="lg" font-size="39.5" x="1555.97 1576.95 1597.94 1617.94 1639.37 1661.16" y="120.6">U <tspan font-stretch="condensed">=</tspan> <tspan font-stretch="condensed">0</tspan><tspan font-size="43.0" y="121.9">V</tspan></text>
<text class="lg" font-size="39.5" x="1555.97 1576.95 1597.94 1617.94 1640.16 1658.87 1677.07 1695.79" y="168.6">U <tspan font-stretch="condensed">=</tspan> <tspan font-stretch="condensed">5</tspan><tspan font-stretch="condensed">0</tspan><tspan font-stretch="condensed">0</tspan>V</text>
<text class="lg" font-size="39.5" x="625.87 646.85 667.84 687.84 709.77 722.06 740.17 758.47 778.29" y="1005.7">U <tspan font-stretch="condensed">=</tspan> -<tspan font-stretch="condensed">5</tspan><tspan font-stretch="condensed">0</tspan><tspan font-stretch="condensed">0</tspan>V</text>
<text class="lg" font-size="39.5" x="625.87 646.85 667.84 687.84 709.27 731.06" y="1053.6">U <tspan font-stretch="condensed">=</tspan> <tspan font-stretch="condensed">0</tspan><tspan font-size="43.0" y="1054.9">V</tspan></text>
<text class="lg" font-size="39.5" x="625.87 646.85 667.84 687.84 710.06 728.77 746.97 765.69" y="1101.6">U <tspan font-stretch="condensed">=</tspan> <tspan font-stretch="condensed">5</tspan><tspan font-stretch="condensed">0</tspan><tspan font-stretch="condensed">0</tspan>V</text>
<text class="lg" font-size="39.5" x="1551.67 1572.65 1593.64 1613.64 1635.57 1647.86 1665.97 1684.27 1704.09" y="998.6">U <tspan font-stretch="condensed">=</tspan> -<tspan font-stretch="condensed">5</tspan><tspan font-stretch="condensed">0</tspan><tspan font-stretch="condensed">0</tspan>V</text>
<text class="lg" font-size="39.5" x="1551.67 1572.65 1593.64 1613.64 1635.07 1656.86" y="1046.5">U <tspan font-stretch="condensed">=</tspan> <tspan font-stretch="condensed">0</tspan><tspan font-size="43.0" y="1047.8">V</tspan></text>
<text class="lg" font-size="39.5" x="1551.67 1572.65 1593.64 1613.64 1635.86 1654.57 1672.77 1691.49" y="1094.5">U <tspan font-stretch="condensed">=</tspan> <tspan font-stretch="condensed">5</tspan><tspan font-stretch="condensed">0</tspan><tspan font-stretch="condensed">0</tspan>V</text>
<text class="cap" x="482.3" y="863.2">(a)</text>
<text class="cap" x="1404.4" y="863.2">(b)</text>
<text class="cap" x="482.5" y="1810">(c)</text>
<text class="cap" x="1404.4" y="1810.2">(d)</text>
</svg></body></html>
